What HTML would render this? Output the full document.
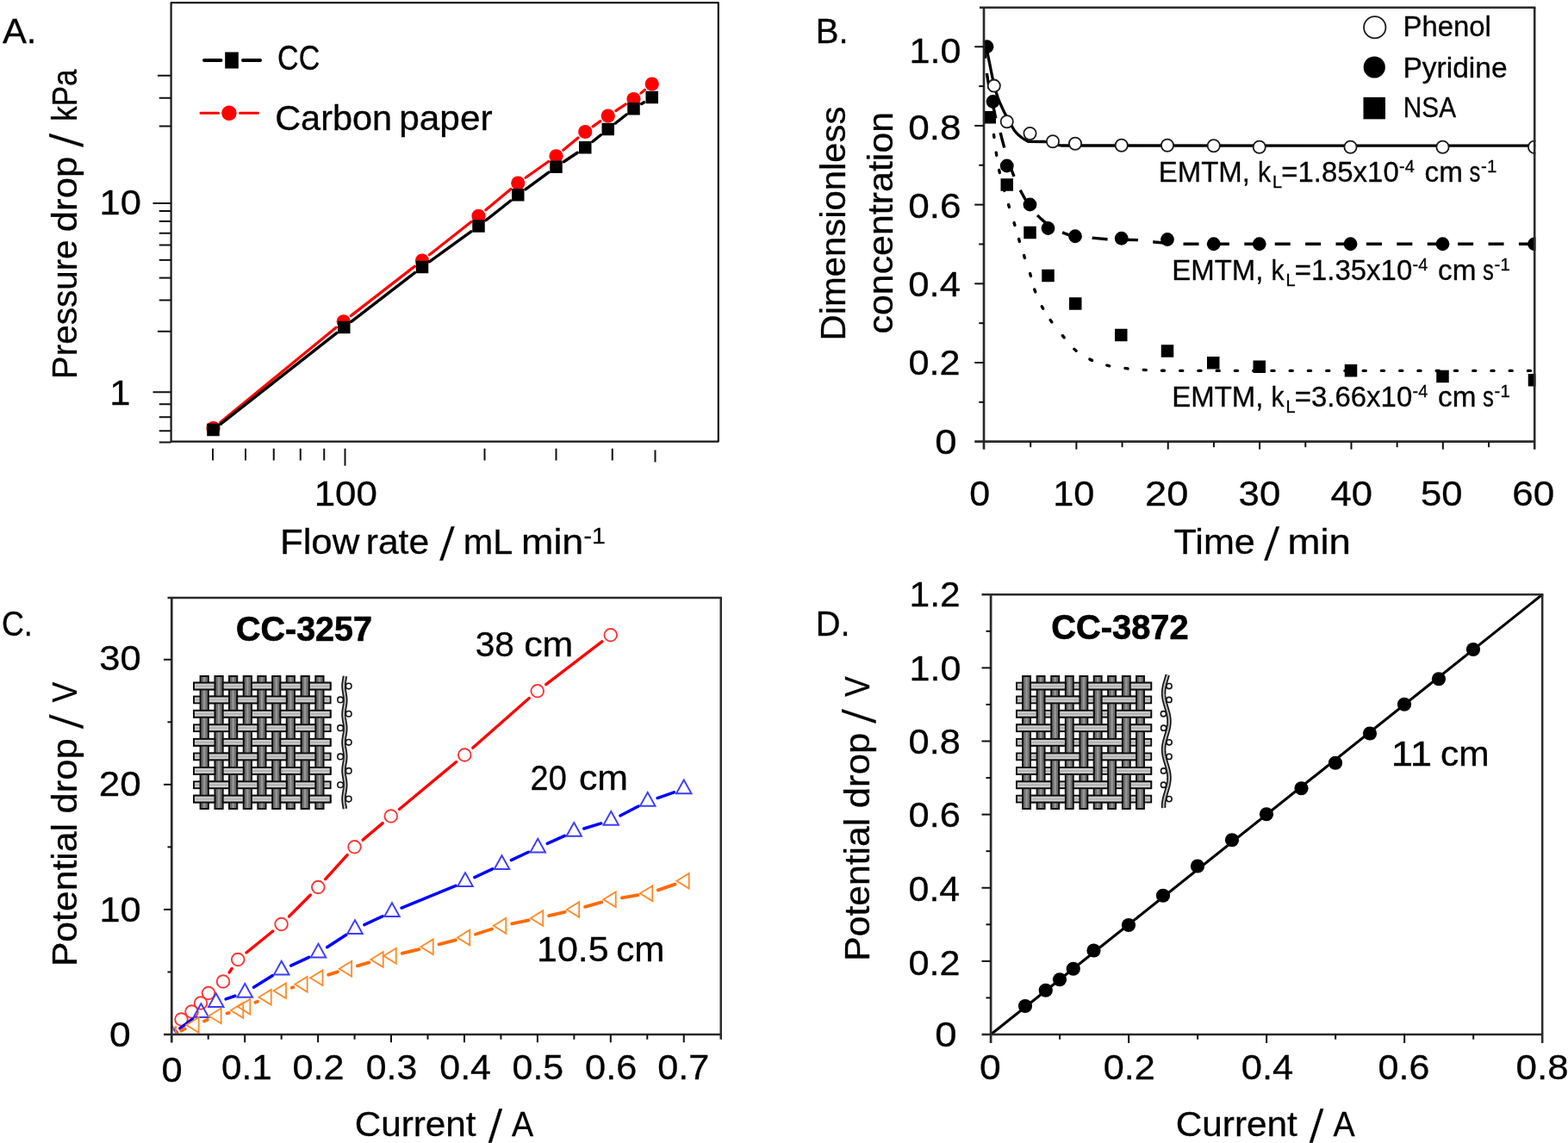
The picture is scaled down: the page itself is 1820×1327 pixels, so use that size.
<!DOCTYPE html>
<html lang="en"><head><meta charset="utf-8"><title>Figure</title>
<style>
html,body{margin:0;padding:0;background:#fff;}
body{width:1820px;height:1327px;overflow:hidden;}
svg{display:block;}
svg text{font-family:"Liberation Sans",sans-serif;}
</style></head><body>
<svg width="1820" height="1327" viewBox="0 0 1820 1327">
<rect width="1820" height="1327" fill="#fff"/>
<rect x="198.6" y="3.2" width="635.1999999999999" height="509.40000000000003" fill="none" stroke="#161616" stroke-width="2.2" stroke-linejoin="round"/>
<line x1="183.00" y1="87.75" x2="198.60" y2="87.75" stroke="#111" stroke-width="2.0" stroke-linecap="butt" />
<line x1="184.75" y1="113.75" x2="198.60" y2="113.75" stroke="#111" stroke-width="2.0" stroke-linecap="butt" />
<line x1="184.75" y1="146.50" x2="198.60" y2="146.50" stroke="#111" stroke-width="2.0" stroke-linecap="butt" />
<line x1="177.50" y1="236.00" x2="198.60" y2="236.00" stroke="#111" stroke-width="2.0" stroke-linecap="butt" />
<line x1="184.75" y1="245.00" x2="198.60" y2="245.00" stroke="#111" stroke-width="2.0" stroke-linecap="butt" />
<line x1="184.75" y1="256.90" x2="198.60" y2="256.90" stroke="#111" stroke-width="2.0" stroke-linecap="butt" />
<line x1="184.75" y1="270.75" x2="198.60" y2="270.75" stroke="#111" stroke-width="2.0" stroke-linecap="butt" />
<line x1="184.75" y1="284.50" x2="198.60" y2="284.50" stroke="#111" stroke-width="2.0" stroke-linecap="butt" />
<line x1="184.75" y1="301.90" x2="198.60" y2="301.90" stroke="#111" stroke-width="2.0" stroke-linecap="butt" />
<line x1="184.75" y1="322.60" x2="198.60" y2="322.60" stroke="#111" stroke-width="2.0" stroke-linecap="butt" />
<line x1="184.75" y1="348.50" x2="198.60" y2="348.50" stroke="#111" stroke-width="2.0" stroke-linecap="butt" />
<line x1="183.00" y1="384.75" x2="198.60" y2="384.75" stroke="#111" stroke-width="2.0" stroke-linecap="butt" />
<line x1="177.50" y1="455.25" x2="198.60" y2="455.25" stroke="#111" stroke-width="2.0" stroke-linecap="butt" />
<line x1="184.75" y1="469.25" x2="198.60" y2="469.25" stroke="#111" stroke-width="2.0" stroke-linecap="butt" />
<line x1="184.75" y1="484.25" x2="198.60" y2="484.25" stroke="#111" stroke-width="2.0" stroke-linecap="butt" />
<line x1="184.75" y1="500.25" x2="198.60" y2="500.25" stroke="#111" stroke-width="2.0" stroke-linecap="butt" />
<line x1="184.75" y1="513.50" x2="198.60" y2="513.50" stroke="#111" stroke-width="2.0" stroke-linecap="butt" />
<line x1="247.00" y1="520.75" x2="247.00" y2="534.50" stroke="#111" stroke-width="2.0" stroke-linecap="butt" />
<line x1="285.00" y1="520.75" x2="285.00" y2="534.50" stroke="#111" stroke-width="2.0" stroke-linecap="butt" />
<line x1="317.75" y1="520.75" x2="317.75" y2="534.50" stroke="#111" stroke-width="2.0" stroke-linecap="butt" />
<line x1="348.75" y1="520.75" x2="348.75" y2="534.50" stroke="#111" stroke-width="2.0" stroke-linecap="butt" />
<line x1="376.25" y1="520.75" x2="376.25" y2="534.50" stroke="#111" stroke-width="2.0" stroke-linecap="butt" />
<line x1="400.50" y1="520.75" x2="400.50" y2="540.75" stroke="#111" stroke-width="2.0" stroke-linecap="butt" />
<line x1="562.50" y1="520.75" x2="562.50" y2="534.50" stroke="#111" stroke-width="2.0" stroke-linecap="butt" />
<line x1="645.50" y1="520.75" x2="645.50" y2="534.50" stroke="#111" stroke-width="2.0" stroke-linecap="butt" />
<line x1="710.75" y1="520.75" x2="710.75" y2="534.50" stroke="#111" stroke-width="2.0" stroke-linecap="butt" />
<line x1="760.50" y1="522.50" x2="760.50" y2="536.50" stroke="#111" stroke-width="2.0" stroke-linecap="butt" />
<line x1="255.86" y1="490.16" x2="390.39" y2="380.09" stroke="#f00" stroke-width="3.2" stroke-linecap="round" />
<line x1="407.29" y1="366.63" x2="481.46" y2="309.12" stroke="#f00" stroke-width="3.2" stroke-linecap="round" />
<line x1="498.47" y1="295.80" x2="547.03" y2="257.45" stroke="#f00" stroke-width="3.2" stroke-linecap="round" />
<line x1="563.79" y1="243.82" x2="592.96" y2="219.43" stroke="#f00" stroke-width="3.2" stroke-linecap="round" />
<line x1="610.07" y1="206.27" x2="636.68" y2="187.48" stroke="#f00" stroke-width="3.2" stroke-linecap="round" />
<line x1="653.78" y1="174.32" x2="670.97" y2="159.93" stroke="#f00" stroke-width="3.2" stroke-linecap="round" />
<line x1="688.11" y1="146.82" x2="696.89" y2="140.68" stroke="#f00" stroke-width="3.2" stroke-linecap="round" />
<line x1="714.78" y1="128.58" x2="726.47" y2="120.92" stroke="#f00" stroke-width="3.2" stroke-linecap="round" />
<line x1="743.84" y1="108.13" x2="748.41" y2="104.37" stroke="#f00" stroke-width="3.2" stroke-linecap="round" />
<circle cx="247.50" cy="497.00" r="8.1" fill="#f00" stroke="none" stroke-width="0"/>
<circle cx="398.75" cy="373.25" r="8.1" fill="#f00" stroke="none" stroke-width="0"/>
<circle cx="490.00" cy="302.50" r="8.1" fill="#f00" stroke="none" stroke-width="0"/>
<circle cx="555.50" cy="250.75" r="8.1" fill="#f00" stroke="none" stroke-width="0"/>
<circle cx="601.25" cy="212.50" r="8.1" fill="#f00" stroke="none" stroke-width="0"/>
<circle cx="645.50" cy="181.25" r="8.1" fill="#f00" stroke="none" stroke-width="0"/>
<circle cx="679.25" cy="153.00" r="8.1" fill="#f00" stroke="none" stroke-width="0"/>
<circle cx="705.75" cy="134.50" r="8.1" fill="#f00" stroke="none" stroke-width="0"/>
<circle cx="735.50" cy="115.00" r="8.1" fill="#f00" stroke="none" stroke-width="0"/>
<circle cx="756.75" cy="97.50" r="8.1" fill="#f00" stroke="none" stroke-width="0"/>
<line x1="256.00" y1="492.34" x2="390.75" y2="386.66" stroke="#000" stroke-width="3.4" stroke-linecap="round" />
<line x1="407.80" y1="373.40" x2="481.45" y2="316.60" stroke="#000" stroke-width="3.4" stroke-linecap="round" />
<line x1="498.74" y1="303.66" x2="546.76" y2="268.84" stroke="#000" stroke-width="3.4" stroke-linecap="round" />
<line x1="563.96" y1="255.79" x2="592.79" y2="232.96" stroke="#000" stroke-width="3.4" stroke-linecap="round" />
<line x1="609.95" y1="219.86" x2="636.80" y2="200.14" stroke="#000" stroke-width="3.4" stroke-linecap="round" />
<line x1="654.49" y1="187.76" x2="670.26" y2="177.24" stroke="#000" stroke-width="3.4" stroke-linecap="round" />
<line x1="687.68" y1="164.49" x2="697.32" y2="156.76" stroke="#000" stroke-width="3.4" stroke-linecap="round" />
<line x1="714.19" y1="143.26" x2="727.06" y2="132.99" stroke="#000" stroke-width="3.4" stroke-linecap="round" />
<line x1="744.66" y1="120.54" x2="747.59" y2="118.71" stroke="#000" stroke-width="3.4" stroke-linecap="round" />
<rect x="240.25" y="491.75" width="14.5" height="14.5" fill="#000"/>
<rect x="392.00" y="372.75" width="14.5" height="14.5" fill="#000"/>
<rect x="482.75" y="302.75" width="14.5" height="14.5" fill="#000"/>
<rect x="548.25" y="255.25" width="14.5" height="14.5" fill="#000"/>
<rect x="594.00" y="219.00" width="14.5" height="14.5" fill="#000"/>
<rect x="638.25" y="186.50" width="14.5" height="14.5" fill="#000"/>
<rect x="672.00" y="164.00" width="14.5" height="14.5" fill="#000"/>
<rect x="698.50" y="142.75" width="14.5" height="14.5" fill="#000"/>
<rect x="728.25" y="119.00" width="14.5" height="14.5" fill="#000"/>
<rect x="749.50" y="105.75" width="14.5" height="14.5" fill="#000"/>
<line x1="237.00" y1="70.00" x2="256.50" y2="70.00" stroke="#000" stroke-width="4" stroke-linecap="round" />
<line x1="282.00" y1="70.00" x2="302.00" y2="70.00" stroke="#000" stroke-width="4" stroke-linecap="round" />
<rect x="261.20" y="60.50" width="15.6" height="19" fill="#000"/>
<line x1="233.00" y1="131.25" x2="253.50" y2="131.25" stroke="#f00" stroke-width="3" stroke-linecap="round" />
<line x1="278.50" y1="131.25" x2="299.50" y2="131.25" stroke="#f00" stroke-width="3" stroke-linecap="round" />
<circle cx="265.90" cy="131.25" r="8.7" fill="#f00" stroke="none" stroke-width="0"/>
<text transform="translate(322.05,80.50) scale(0.8517,1.0000)" font-size="40" fill="#000" stroke="#000" stroke-width="0.3">CC</text>
<text transform="translate(319.18,151.25) scale(1.0367,1.0000)" font-size="40" fill="#000" stroke="#000" stroke-width="0.3">Carbon</text>
<text transform="translate(463.25,151.25) scale(1.0595,1.0000)" font-size="40" fill="#000" stroke="#000" stroke-width="0.3">paper</text>
<text transform="translate(2.90,50.00) scale(1.0484,1.0000)" font-size="40" fill="#000" stroke="#000" stroke-width="0.3">A.</text>
<text transform="translate(115.49,249.10) scale(1.0865,1.0000)" font-size="40" fill="#000" stroke="#000" stroke-width="0.3">10</text>
<text transform="translate(127.34,469.50) scale(1.0865,1.0000)" font-size="40" fill="#000" stroke="#000" stroke-width="0.3">1</text>
<text transform="translate(364.71,587.00) scale(1.0973,1.0000)" font-size="40" fill="#000" stroke="#000" stroke-width="0.3">100</text>
<text transform="translate(324.89,643.25) scale(1.0947,1.0000)" font-size="40" fill="#000" stroke="#000" stroke-width="0.3">Flow</text>
<text transform="translate(424.73,643.25) scale(1.0642,1.0000)" font-size="40" fill="#000" stroke="#000" stroke-width="0.3">rate</text>
<text transform="translate(510.56,650.15) skewX(-6.136) scale(1.15,1.34)" font-size="40" fill="#000" stroke="#000" stroke-width="0.3">/</text>
<text transform="translate(537.71,643.25) scale(1.0340,1.0000)" font-size="40" fill="#000" stroke="#000" stroke-width="0.3">mL</text>
<text transform="translate(604.97,643.25) scale(1.1233,1.0000)" font-size="40" fill="#000" stroke="#000" stroke-width="0.3">min</text>
<text transform="translate(677.48,630.50) scale(1.1099,1.0000)" font-size="25.5" fill="#000" stroke="#000" stroke-width="0.3">-1</text>
<text transform="translate(89.40,440.24) rotate(-90) scale(1.0116,1.0000)" font-size="40" fill="#000" stroke="#000" stroke-width="0.3">Pressure</text>
<text transform="translate(89.40,269.16) rotate(-90) scale(1.0913,1.0000)" font-size="40" fill="#000" stroke="#000" stroke-width="0.3">drop</text>
<text transform="translate(96.30,170.76) rotate(-90) skewX(-4.405) scale(1.15,1.34)" font-size="40" fill="#000" stroke="#000" stroke-width="0.3">/</text>
<text transform="translate(89.40,140.77) rotate(-90) scale(0.8763,1.0000)" font-size="40" fill="#000" stroke="#000" stroke-width="0.3">kPa</text>
<clipPath id="cb"><rect x="1142" y="8.75" width="640.4000000000001" height="503.95000000000005"/></clipPath>
<g clip-path="url(#cb)">
<path d="M1142.60,54.25 L1142.81,54.64 L1143.05,55.02 L1143.34,55.43 L1143.67,55.91 L1144.03,56.50 L1144.43,57.24 L1144.85,58.17 L1145.30,59.33 L1145.76,60.76 L1146.25,62.50 L1146.78,64.67 L1147.35,67.29 L1147.97,70.26 L1148.62,73.47 L1149.29,76.84 L1149.97,80.27 L1150.63,83.64 L1151.29,86.87 L1151.91,89.86 L1152.50,92.50 L1153.05,94.86 L1153.58,97.07 L1154.09,99.16 L1154.59,101.12 L1155.08,102.98 L1155.56,104.76 L1156.04,106.46 L1156.52,108.10 L1157.01,109.69 L1157.50,111.25 L1158.00,112.75 L1158.50,114.15 L1159.00,115.47 L1159.50,116.71 L1160.00,117.91 L1160.50,119.06 L1161.00,120.18 L1161.50,121.28 L1162.00,122.39 L1162.50,123.50 L1162.99,124.59 L1163.46,125.62 L1163.92,126.61 L1164.38,127.58 L1164.84,128.53 L1165.32,129.49 L1165.82,130.48 L1166.34,131.51 L1166.90,132.59 L1167.50,133.75 L1168.16,135.01 L1168.88,136.38 L1169.64,137.83 L1170.44,139.32 L1171.25,140.83 L1172.06,142.32 L1172.86,143.76 L1173.62,145.13 L1174.34,146.38 L1175.00,147.50 L1175.59,148.48 L1176.13,149.35 L1176.62,150.13 L1177.08,150.83 L1177.53,151.48 L1177.98,152.10 L1178.43,152.69 L1178.91,153.27 L1179.43,153.87 L1180.00,154.50 L1180.62,155.15 L1181.28,155.80 L1181.96,156.44 L1182.67,157.07 L1183.39,157.69 L1184.12,158.30 L1184.86,158.89 L1185.58,159.45 L1186.30,159.99 L1187.00,160.50 L1187.72,160.99 L1188.47,161.48 L1189.26,161.95 L1190.04,162.40 L1190.81,162.82 L1191.55,163.22 L1192.23,163.58 L1192.84,163.90 L1193.35,164.18 L1193.75,164.40 L1212.50,164.50 L1212.50,164.50 L1212.98,164.54 L1213.65,164.59 L1214.44,164.65 L1215.30,164.73 L1216.17,164.85 L1217.00,165.00 L1217.80,165.20 L1218.63,165.45 L1219.47,165.73 L1220.31,166.03 L1221.16,166.32 L1222.00,166.60 L1222.83,166.88 L1223.65,167.16 L1224.47,167.45 L1225.30,167.73 L1226.14,167.98 L1227.00,168.20 L1227.95,168.39 L1229.00,168.56 L1230.06,168.70 L1231.06,168.82 L1231.90,168.92 L1232.50,169.00 L1783.20,169.20" fill="none" stroke="#000" stroke-width="3.3" stroke-linejoin="round"/>
<path d="M1142.40,54.25 L1142.57,56.24 L1142.78,58.89 L1143.04,62.05 L1143.33,65.56 L1143.64,69.27 L1143.99,73.01 L1144.36,76.64 L1144.75,80.00 L1145.17,83.22 L1145.64,86.49 L1146.14,89.78 L1146.66,93.05 L1147.20,96.24 L1147.73,99.33 L1148.25,102.26 L1148.75,105.00 L1149.23,107.50 L1149.70,109.79 L1150.16,111.92 L1150.62,113.94 L1151.09,115.90 L1151.55,117.87 L1152.02,119.88 L1152.50,122.00 L1152.98,124.23 L1153.47,126.52 L1153.96,128.85 L1154.45,131.19 L1154.95,133.50 L1155.46,135.76 L1155.97,137.93 L1156.50,140.00 L1157.07,142.04 L1157.70,144.11 L1158.35,146.16 L1159.00,148.12 L1159.62,149.95 L1160.18,151.58 L1160.65,152.95 L1161.00,154.00 L1161.61,155.83 L1162.63,159.85 L1163.65,163.74 L1164.67,167.51 L1165.68,171.16 L1166.70,174.69 L1167.72,178.11 L1168.73,181.43 L1169.75,184.64 L1170.77,187.75 L1171.79,190.76 L1172.80,193.67 L1173.82,196.50 L1174.84,199.23 L1175.85,201.88 L1176.87,204.45 L1177.89,206.93 L1178.91,209.34 L1179.92,211.67 L1180.94,213.92 L1181.96,216.11 L1182.97,218.23 L1183.99,220.28 L1185.01,222.26 L1186.03,224.18 L1187.04,226.05 L1188.06,227.85 L1189.08,229.60 L1190.09,231.29 L1191.11,232.93 L1192.13,234.51 L1193.15,236.05 L1194.16,237.54 L1195.18,238.98 L1196.20,240.37 L1197.21,241.73 L1198.23,243.04 L1199.25,244.30 L1200.27,245.53 L1201.28,246.72 L1202.30,247.87 L1203.32,248.99 L1204.33,250.07 L1205.35,251.11 L1206.37,252.13 L1207.39,253.11 L1208.40,254.06 L1209.42,254.98 L1210.44,255.87 L1211.45,256.73 L1212.47,257.57 L1213.49,258.38 L1214.50,259.16 L1215.52,259.92 L1216.54,260.66 L1217.56,261.37 L1218.57,262.06 L1219.59,262.73 L1220.61,263.37 L1221.62,264.00 L1222.64,264.61 L1223.66,265.20 L1224.68,265.77 L1225.69,266.32 L1226.71,266.85 L1227.73,267.37 L1228.74,267.87 L1229.76,268.35 L1230.78,268.82 L1231.80,269.28 L1232.81,269.72 L1233.83,270.14 L1234.85,270.56 L1235.86,270.96 L1236.88,271.35 L1237.90,271.72 L1238.92,272.08 L1239.93,272.44 L1240.95,272.78 L1241.97,273.11 L1242.98,273.43 L1248.00,274.80 L1270.00,276.40 L1285.00,277.80 L1301.75,278.20 L1320.00,278.60 L1340.00,281.00 L1355.00,282.40 L1375.00,283.25 L1783.20,283.25" fill="none" stroke="#000" stroke-width="3.4" stroke-dasharray="18 17.4" stroke-dashoffset="4.4"/>
<line x1="1153.55" y1="156.51" x2="1153.95" y2="159.49" stroke="#000" stroke-width="3.4" stroke-linecap="round" />
<line x1="1156.27" y1="177.27" x2="1156.73" y2="180.23" stroke="#000" stroke-width="3.4" stroke-linecap="round" />
<line x1="1159.68" y1="197.53" x2="1160.32" y2="200.47" stroke="#000" stroke-width="3.4" stroke-linecap="round" />
<line x1="1165.10" y1="218.55" x2="1165.90" y2="221.45" stroke="#000" stroke-width="3.4" stroke-linecap="round" />
<line x1="1170.57" y1="237.56" x2="1171.43" y2="240.44" stroke="#000" stroke-width="3.4" stroke-linecap="round" />
<line x1="1177.07" y1="258.56" x2="1177.93" y2="261.44" stroke="#000" stroke-width="3.4" stroke-linecap="round" />
<line x1="1182.57" y1="277.56" x2="1183.43" y2="280.44" stroke="#000" stroke-width="3.4" stroke-linecap="round" />
<line x1="1188.54" y1="296.57" x2="1189.46" y2="299.43" stroke="#000" stroke-width="3.4" stroke-linecap="round" />
<line x1="1195.56" y1="317.57" x2="1196.44" y2="320.43" stroke="#000" stroke-width="3.4" stroke-linecap="round" />
<line x1="1200.73" y1="336.09" x2="1201.77" y2="338.91" stroke="#000" stroke-width="3.4" stroke-linecap="round" />
<line x1="1209.30" y1="355.68" x2="1210.70" y2="358.32" stroke="#000" stroke-width="3.4" stroke-linecap="round" />
<line x1="1219.12" y1="371.53" x2="1220.88" y2="373.97" stroke="#000" stroke-width="3.4" stroke-linecap="round" />
<line x1="1233.29" y1="389.60" x2="1235.21" y2="391.90" stroke="#000" stroke-width="3.4" stroke-linecap="round" />
<line x1="1246.85" y1="405.28" x2="1249.15" y2="407.22" stroke="#000" stroke-width="3.4" stroke-linecap="round" />
<line x1="1264.90" y1="417.10" x2="1267.60" y2="418.40" stroke="#000" stroke-width="3.4" stroke-linecap="round" />
<line x1="1284.79" y1="424.15" x2="1287.71" y2="424.85" stroke="#000" stroke-width="3.4" stroke-linecap="round" />
<line x1="1306.01" y1="427.57" x2="1308.99" y2="427.93" stroke="#000" stroke-width="3.4" stroke-linecap="round" />
<line x1="1327.25" y1="429.41" x2="1330.25" y2="429.59" stroke="#000" stroke-width="3.4" stroke-linecap="round" />
<line x1="1348.50" y1="430.22" x2="1351.50" y2="430.28" stroke="#000" stroke-width="3.4" stroke-linecap="round" />
<line x1="1369.75" y1="430.39" x2="1372.75" y2="430.41" stroke="#000" stroke-width="3.4" stroke-linecap="round" />
<line x1="1391.00" y1="430.40" x2="1394.00" y2="430.40" stroke="#000" stroke-width="3.4" stroke-linecap="round" />
<line x1="1412.25" y1="430.40" x2="1415.25" y2="430.40" stroke="#000" stroke-width="3.4" stroke-linecap="round" />
<line x1="1433.50" y1="430.40" x2="1436.50" y2="430.40" stroke="#000" stroke-width="3.4" stroke-linecap="round" />
<line x1="1454.75" y1="430.40" x2="1457.75" y2="430.40" stroke="#000" stroke-width="3.4" stroke-linecap="round" />
<line x1="1476.00" y1="430.40" x2="1479.00" y2="430.40" stroke="#000" stroke-width="3.4" stroke-linecap="round" />
<line x1="1497.25" y1="430.40" x2="1500.25" y2="430.40" stroke="#000" stroke-width="3.4" stroke-linecap="round" />
<line x1="1518.50" y1="430.40" x2="1521.50" y2="430.40" stroke="#000" stroke-width="3.4" stroke-linecap="round" />
<line x1="1539.75" y1="430.40" x2="1542.75" y2="430.40" stroke="#000" stroke-width="3.4" stroke-linecap="round" />
<line x1="1561.00" y1="430.40" x2="1564.00" y2="430.40" stroke="#000" stroke-width="3.4" stroke-linecap="round" />
<line x1="1582.25" y1="430.40" x2="1585.25" y2="430.40" stroke="#000" stroke-width="3.4" stroke-linecap="round" />
<line x1="1603.50" y1="430.40" x2="1606.50" y2="430.40" stroke="#000" stroke-width="3.4" stroke-linecap="round" />
<line x1="1624.75" y1="430.40" x2="1627.75" y2="430.40" stroke="#000" stroke-width="3.4" stroke-linecap="round" />
<line x1="1646.00" y1="430.40" x2="1649.00" y2="430.40" stroke="#000" stroke-width="3.4" stroke-linecap="round" />
<line x1="1667.25" y1="430.40" x2="1670.25" y2="430.40" stroke="#000" stroke-width="3.4" stroke-linecap="round" />
<line x1="1688.50" y1="430.40" x2="1691.50" y2="430.40" stroke="#000" stroke-width="3.4" stroke-linecap="round" />
<line x1="1709.75" y1="430.40" x2="1712.75" y2="430.40" stroke="#000" stroke-width="3.4" stroke-linecap="round" />
<line x1="1731.00" y1="430.40" x2="1734.00" y2="430.40" stroke="#000" stroke-width="3.4" stroke-linecap="round" />
<line x1="1752.25" y1="430.40" x2="1755.25" y2="430.40" stroke="#000" stroke-width="3.4" stroke-linecap="round" />
<line x1="1773.50" y1="430.40" x2="1776.50" y2="430.40" stroke="#000" stroke-width="3.4" stroke-linecap="round" />
<rect x="1141.50" y="129.00" width="14.5" height="14.5" fill="#000"/>
<rect x="1161.50" y="207.25" width="14.5" height="14.5" fill="#000"/>
<rect x="1188.25" y="262.75" width="14.5" height="14.5" fill="#000"/>
<rect x="1209.25" y="312.75" width="14.5" height="14.5" fill="#000"/>
<rect x="1241.00" y="345.25" width="14.5" height="14.5" fill="#000"/>
<rect x="1294.00" y="381.75" width="14.5" height="14.5" fill="#000"/>
<rect x="1347.75" y="400.25" width="14.5" height="14.5" fill="#000"/>
<rect x="1401.00" y="414.00" width="14.5" height="14.5" fill="#000"/>
<rect x="1454.50" y="418.50" width="14.5" height="14.5" fill="#000"/>
<rect x="1560.75" y="423.00" width="14.5" height="14.5" fill="#000"/>
<rect x="1667.25" y="429.75" width="14.5" height="14.5" fill="#000"/>
<rect x="1773.75" y="434.00" width="14.5" height="14.5" fill="#000"/>
<circle cx="1145.50" cy="54.25" r="7.9" fill="#000" stroke="none" stroke-width="0"/>
<circle cx="1152.50" cy="118.00" r="7.9" fill="#000" stroke="none" stroke-width="0"/>
<circle cx="1168.75" cy="192.50" r="7.9" fill="#000" stroke="none" stroke-width="0"/>
<circle cx="1195.50" cy="237.50" r="7.9" fill="#000" stroke="none" stroke-width="0"/>
<circle cx="1216.50" cy="265.00" r="7.9" fill="#000" stroke="none" stroke-width="0"/>
<circle cx="1248.00" cy="274.25" r="7.9" fill="#000" stroke="none" stroke-width="0"/>
<circle cx="1301.75" cy="276.75" r="7.9" fill="#000" stroke="none" stroke-width="0"/>
<circle cx="1355.00" cy="278.00" r="7.9" fill="#000" stroke="none" stroke-width="0"/>
<circle cx="1408.75" cy="283.25" r="7.9" fill="#000" stroke="none" stroke-width="0"/>
<circle cx="1461.75" cy="283.25" r="7.9" fill="#000" stroke="none" stroke-width="0"/>
<circle cx="1567.50" cy="283.25" r="7.9" fill="#000" stroke="none" stroke-width="0"/>
<circle cx="1674.50" cy="283.25" r="7.9" fill="#000" stroke="none" stroke-width="0"/>
<circle cx="1781.00" cy="283.25" r="7.9" fill="#000" stroke="none" stroke-width="0"/>
<circle cx="1153.80" cy="99.60" r="7.1" fill="#fff" stroke="#1a1a1a" stroke-width="1.8"/>
<circle cx="1168.75" cy="141.25" r="7.1" fill="#fff" stroke="#1a1a1a" stroke-width="1.8"/>
<circle cx="1195.50" cy="155.00" r="7.1" fill="#fff" stroke="#1a1a1a" stroke-width="1.8"/>
<circle cx="1222.00" cy="164.25" r="7.1" fill="#fff" stroke="#1a1a1a" stroke-width="1.8"/>
<circle cx="1248.00" cy="166.75" r="7.1" fill="#fff" stroke="#1a1a1a" stroke-width="1.8"/>
<circle cx="1301.75" cy="168.75" r="7.1" fill="#fff" stroke="#1a1a1a" stroke-width="1.8"/>
<circle cx="1355.00" cy="168.75" r="7.1" fill="#fff" stroke="#1a1a1a" stroke-width="1.8"/>
<circle cx="1408.75" cy="169.25" r="7.1" fill="#fff" stroke="#1a1a1a" stroke-width="1.8"/>
<circle cx="1461.75" cy="170.75" r="7.1" fill="#fff" stroke="#1a1a1a" stroke-width="1.8"/>
<circle cx="1567.50" cy="170.75" r="7.1" fill="#fff" stroke="#1a1a1a" stroke-width="1.8"/>
<circle cx="1674.50" cy="170.75" r="7.1" fill="#fff" stroke="#1a1a1a" stroke-width="1.8"/>
<circle cx="1781.00" cy="170.75" r="7.1" fill="#fff" stroke="#1a1a1a" stroke-width="1.8"/>
</g>
<line x1="1142.00" y1="8.75" x2="1142.00" y2="521.70" stroke="#2a2a2a" stroke-width="2.7" stroke-linecap="butt" />
<line x1="1131.25" y1="512.70" x2="1781.20" y2="512.70" stroke="#2a2a2a" stroke-width="2.7" stroke-linecap="butt" />
<line x1="1137.00" y1="8.75" x2="1782.40" y2="8.75" stroke="#2a2a2a" stroke-width="2.4" stroke-linecap="butt" />
<line x1="1781.20" y1="8.75" x2="1781.20" y2="521.70" stroke="#2a2a2a" stroke-width="2.6" stroke-linecap="butt" />
<line x1="1131.25" y1="54.25" x2="1142.00" y2="54.25" stroke="#111" stroke-width="2.0" stroke-linecap="butt" />
<line x1="1131.25" y1="145.94" x2="1142.00" y2="145.94" stroke="#111" stroke-width="2.0" stroke-linecap="butt" />
<line x1="1131.25" y1="237.63" x2="1142.00" y2="237.63" stroke="#111" stroke-width="2.0" stroke-linecap="butt" />
<line x1="1131.25" y1="329.32" x2="1142.00" y2="329.32" stroke="#111" stroke-width="2.0" stroke-linecap="butt" />
<line x1="1131.25" y1="421.01" x2="1142.00" y2="421.01" stroke="#111" stroke-width="2.0" stroke-linecap="butt" />
<line x1="1136.25" y1="100.09" x2="1142.00" y2="100.09" stroke="#111" stroke-width="2.0" stroke-linecap="butt" />
<line x1="1136.25" y1="191.79" x2="1142.00" y2="191.79" stroke="#111" stroke-width="2.0" stroke-linecap="butt" />
<line x1="1136.25" y1="283.48" x2="1142.00" y2="283.48" stroke="#111" stroke-width="2.0" stroke-linecap="butt" />
<line x1="1136.25" y1="375.17" x2="1142.00" y2="375.17" stroke="#111" stroke-width="2.0" stroke-linecap="butt" />
<line x1="1136.25" y1="466.86" x2="1142.00" y2="466.86" stroke="#111" stroke-width="2.0" stroke-linecap="butt" />
<line x1="1196.18" y1="512.70" x2="1196.18" y2="519.20" stroke="#111" stroke-width="2.0" stroke-linecap="butt" />
<line x1="1249.37" y1="512.70" x2="1249.37" y2="521.70" stroke="#111" stroke-width="2.0" stroke-linecap="butt" />
<line x1="1302.55" y1="512.70" x2="1302.55" y2="519.20" stroke="#111" stroke-width="2.0" stroke-linecap="butt" />
<line x1="1355.73" y1="512.70" x2="1355.73" y2="521.70" stroke="#111" stroke-width="2.0" stroke-linecap="butt" />
<line x1="1408.92" y1="512.70" x2="1408.92" y2="519.20" stroke="#111" stroke-width="2.0" stroke-linecap="butt" />
<line x1="1462.10" y1="512.70" x2="1462.10" y2="521.70" stroke="#111" stroke-width="2.0" stroke-linecap="butt" />
<line x1="1515.28" y1="512.70" x2="1515.28" y2="519.20" stroke="#111" stroke-width="2.0" stroke-linecap="butt" />
<line x1="1568.47" y1="512.70" x2="1568.47" y2="521.70" stroke="#111" stroke-width="2.0" stroke-linecap="butt" />
<line x1="1621.65" y1="512.70" x2="1621.65" y2="519.20" stroke="#111" stroke-width="2.0" stroke-linecap="butt" />
<line x1="1674.83" y1="512.70" x2="1674.83" y2="521.70" stroke="#111" stroke-width="2.0" stroke-linecap="butt" />
<line x1="1728.02" y1="512.70" x2="1728.02" y2="519.20" stroke="#111" stroke-width="2.0" stroke-linecap="butt" />
<circle cx="1595.75" cy="31.75" r="12.7" fill="#fff" stroke="#1a1a1a" stroke-width="1.8"/>
<circle cx="1595.25" cy="78.00" r="12.6" fill="#000" stroke="none" stroke-width="0"/>
<rect x="1582.50" y="112.85" width="25.5" height="25.5" fill="#000"/>
<text transform="translate(1628.54,42.00) scale(1.0056,1.0000)" font-size="32.7" fill="#000" stroke="#000" stroke-width="0.3">Phenol</text>
<text transform="translate(1628.48,89.50) scale(1.0259,1.0000)" font-size="32.7" fill="#000" stroke="#000" stroke-width="0.3">Pyridine</text>
<text transform="translate(1628.79,136.25) scale(0.9108,1.0000)" font-size="32.7" fill="#000" stroke="#000" stroke-width="0.3">NSA</text>
<text transform="translate(1344.68,211.25) scale(1.0087,1.0000)" font-size="32.7" fill="#000" stroke="#000" stroke-width="0.3">EMTM,</text>
<text transform="translate(1459.97,211.25) scale(0.9192,1.0000)" font-size="32.7" fill="#000" stroke="#000" stroke-width="0.3">k</text>
<text transform="translate(1477.11,218.05) scale(0.9701,1.0000)" font-size="20.5" fill="#000" stroke="#000" stroke-width="0.3">L</text>
<text transform="translate(1487.18,211.25) scale(1.0081,1.0000)" font-size="32.7" fill="#000" stroke="#000" stroke-width="0.3">=1.85x10</text>
<text transform="translate(1624.10,199.75) scale(0.9495,1.0000)" font-size="21" fill="#000" stroke="#000" stroke-width="0.3">-4</text>
<text transform="translate(1653.58,211.25) scale(1.0185,1.0000)" font-size="32.7" fill="#000" stroke="#000" stroke-width="0.3">cm</text>
<text transform="translate(1705.54,211.25) scale(0.7864,1.0000)" font-size="32.7" fill="#000" stroke="#000" stroke-width="0.3">s</text>
<text transform="translate(1719.08,199.75) scale(0.9733,1.0000)" font-size="21" fill="#000" stroke="#000" stroke-width="0.3">-1</text>
<text transform="translate(1360.18,325.00) scale(1.0087,1.0000)" font-size="32.7" fill="#000" stroke="#000" stroke-width="0.3">EMTM,</text>
<text transform="translate(1475.47,325.00) scale(0.9192,1.0000)" font-size="32.7" fill="#000" stroke="#000" stroke-width="0.3">k</text>
<text transform="translate(1492.61,331.80) scale(0.9701,1.0000)" font-size="20.5" fill="#000" stroke="#000" stroke-width="0.3">L</text>
<text transform="translate(1502.68,325.00) scale(1.0081,1.0000)" font-size="32.7" fill="#000" stroke="#000" stroke-width="0.3">=1.35x10</text>
<text transform="translate(1639.60,313.50) scale(0.9495,1.0000)" font-size="21" fill="#000" stroke="#000" stroke-width="0.3">-4</text>
<text transform="translate(1669.08,325.00) scale(1.0185,1.0000)" font-size="32.7" fill="#000" stroke="#000" stroke-width="0.3">cm</text>
<text transform="translate(1721.04,325.00) scale(0.7864,1.0000)" font-size="32.7" fill="#000" stroke="#000" stroke-width="0.3">s</text>
<text transform="translate(1734.58,313.50) scale(0.9733,1.0000)" font-size="21" fill="#000" stroke="#000" stroke-width="0.3">-1</text>
<text transform="translate(1360.18,472.00) scale(1.0087,1.0000)" font-size="32.7" fill="#000" stroke="#000" stroke-width="0.3">EMTM,</text>
<text transform="translate(1475.47,472.00) scale(0.9192,1.0000)" font-size="32.7" fill="#000" stroke="#000" stroke-width="0.3">k</text>
<text transform="translate(1492.61,478.80) scale(0.9701,1.0000)" font-size="20.5" fill="#000" stroke="#000" stroke-width="0.3">L</text>
<text transform="translate(1502.68,472.00) scale(1.0081,1.0000)" font-size="32.7" fill="#000" stroke="#000" stroke-width="0.3">=3.66x10</text>
<text transform="translate(1639.60,460.50) scale(0.9495,1.0000)" font-size="21" fill="#000" stroke="#000" stroke-width="0.3">-4</text>
<text transform="translate(1669.08,472.00) scale(1.0185,1.0000)" font-size="32.7" fill="#000" stroke="#000" stroke-width="0.3">cm</text>
<text transform="translate(1721.04,472.00) scale(0.7864,1.0000)" font-size="32.7" fill="#000" stroke="#000" stroke-width="0.3">s</text>
<text transform="translate(1734.58,460.50) scale(0.9733,1.0000)" font-size="21" fill="#000" stroke="#000" stroke-width="0.3">-1</text>
<text transform="translate(946.69,50.00) scale(1.0032,1.0000)" font-size="40" fill="#000" stroke="#000" stroke-width="0.3">B.</text>
<text transform="translate(1055.52,72.50) scale(1.0763,1.0000)" font-size="40" fill="#000" stroke="#000" stroke-width="0.3">1.0</text>
<text transform="translate(1054.23,162.00) scale(1.1042,1.0000)" font-size="40" fill="#000" stroke="#000" stroke-width="0.3">0.8</text>
<text transform="translate(1054.23,253.00) scale(1.1042,1.0000)" font-size="40" fill="#000" stroke="#000" stroke-width="0.3">0.6</text>
<text transform="translate(1054.25,344.00) scale(1.0917,1.0000)" font-size="40" fill="#000" stroke="#000" stroke-width="0.3">0.4</text>
<text transform="translate(1054.52,434.50) scale(1.0817,1.0000)" font-size="40" fill="#000" stroke="#000" stroke-width="0.3">0.2</text>
<text transform="translate(1085.18,527.00) scale(1.1387,1.0000)" font-size="40" fill="#000" stroke="#000" stroke-width="0.3">0</text>
<text transform="translate(1125.28,587.00) scale(1.0733,1.0000)" font-size="40" fill="#000" stroke="#000" stroke-width="0.3">0</text>
<text transform="translate(1222.25,587.00) scale(1.0840,1.0000)" font-size="40" fill="#000" stroke="#000" stroke-width="0.3">10</text>
<text transform="translate(1328.99,587.00) scale(1.1308,1.0000)" font-size="40" fill="#000" stroke="#000" stroke-width="0.3">20</text>
<text transform="translate(1437.61,587.00) scale(1.0930,1.0000)" font-size="40" fill="#000" stroke="#000" stroke-width="0.3">30</text>
<text transform="translate(1544.52,587.00) scale(1.0893,1.0000)" font-size="40" fill="#000" stroke="#000" stroke-width="0.3">40</text>
<text transform="translate(1649.01,587.00) scale(1.0896,1.0000)" font-size="40" fill="#000" stroke="#000" stroke-width="0.3">50</text>
<text transform="translate(1755.30,587.00) scale(1.1002,1.0000)" font-size="40" fill="#000" stroke="#000" stroke-width="0.3">60</text>
<text transform="translate(1362.53,643.25) scale(1.0790,1.0000)" font-size="40" fill="#000" stroke="#000" stroke-width="0.3">Time</text>
<text transform="translate(1467.56,650.15) skewX(-6.853) scale(1.15,1.34)" font-size="40" fill="#000" stroke="#000" stroke-width="0.3">/</text>
<text transform="translate(1494.42,643.25) scale(1.1402,1.0000)" font-size="40" fill="#000" stroke="#000" stroke-width="0.3">min</text>
<text transform="translate(980.60,395.45) rotate(-90) scale(1.0454,1.0000)" font-size="40" fill="#000" stroke="#000" stroke-width="0.3">Dimensionless</text>
<text transform="translate(1036.00,387.58) rotate(-90) scale(1.0735,1.0000)" font-size="40" fill="#000" stroke="#000" stroke-width="0.3">concentration</text>
<rect x="225.00" y="792.65" width="158.60" height="7.8" fill="#d2d2d2" stroke="#0c0c0c" stroke-width="1.9"/>
<rect x="226.00" y="795.35" width="156.60" height="2.4" fill="#b4b4b4"/>
<rect x="225.00" y="808.56" width="158.60" height="7.8" fill="#d2d2d2" stroke="#0c0c0c" stroke-width="1.9"/>
<rect x="226.00" y="811.26" width="156.60" height="2.4" fill="#b4b4b4"/>
<rect x="225.00" y="824.87" width="158.60" height="7.8" fill="#d2d2d2" stroke="#0c0c0c" stroke-width="1.9"/>
<rect x="226.00" y="827.57" width="156.60" height="2.4" fill="#b4b4b4"/>
<rect x="225.00" y="841.32" width="158.60" height="7.8" fill="#d2d2d2" stroke="#0c0c0c" stroke-width="1.9"/>
<rect x="226.00" y="844.02" width="156.60" height="2.4" fill="#b4b4b4"/>
<rect x="225.00" y="857.90" width="158.60" height="7.8" fill="#d2d2d2" stroke="#0c0c0c" stroke-width="1.9"/>
<rect x="226.00" y="860.60" width="156.60" height="2.4" fill="#b4b4b4"/>
<rect x="225.00" y="874.48" width="158.60" height="7.8" fill="#d2d2d2" stroke="#0c0c0c" stroke-width="1.9"/>
<rect x="226.00" y="877.18" width="156.60" height="2.4" fill="#b4b4b4"/>
<rect x="225.00" y="891.05" width="158.60" height="7.8" fill="#d2d2d2" stroke="#0c0c0c" stroke-width="1.9"/>
<rect x="226.00" y="893.75" width="156.60" height="2.4" fill="#b4b4b4"/>
<rect x="225.00" y="907.37" width="158.60" height="7.8" fill="#d2d2d2" stroke="#0c0c0c" stroke-width="1.9"/>
<rect x="226.00" y="910.07" width="156.60" height="2.4" fill="#b4b4b4"/>
<rect x="225.00" y="923.68" width="158.60" height="7.8" fill="#d2d2d2" stroke="#0c0c0c" stroke-width="1.9"/>
<rect x="226.00" y="926.38" width="156.60" height="2.4" fill="#b4b4b4"/>
<rect x="232.56" y="785.00" width="9.3" height="154.00" fill="#6e6e6e" stroke="#0c0c0c" stroke-width="1.9"/>
<rect x="236.01" y="786.00" width="2.4" height="152.00" fill="#979797"/>
<rect x="249.40" y="785.00" width="9.3" height="154.00" fill="#6e6e6e" stroke="#0c0c0c" stroke-width="1.9"/>
<rect x="252.85" y="786.00" width="2.4" height="152.00" fill="#979797"/>
<rect x="265.98" y="785.00" width="9.3" height="154.00" fill="#6e6e6e" stroke="#0c0c0c" stroke-width="1.9"/>
<rect x="269.43" y="786.00" width="2.4" height="152.00" fill="#979797"/>
<rect x="282.69" y="785.00" width="9.3" height="154.00" fill="#6e6e6e" stroke="#0c0c0c" stroke-width="1.9"/>
<rect x="286.14" y="786.00" width="2.4" height="152.00" fill="#979797"/>
<rect x="299.27" y="785.00" width="9.3" height="154.00" fill="#6e6e6e" stroke="#0c0c0c" stroke-width="1.9"/>
<rect x="302.72" y="786.00" width="2.4" height="152.00" fill="#979797"/>
<rect x="316.11" y="785.00" width="9.3" height="154.00" fill="#6e6e6e" stroke="#0c0c0c" stroke-width="1.9"/>
<rect x="319.56" y="786.00" width="2.4" height="152.00" fill="#979797"/>
<rect x="332.69" y="785.00" width="9.3" height="154.00" fill="#6e6e6e" stroke="#0c0c0c" stroke-width="1.9"/>
<rect x="336.14" y="786.00" width="2.4" height="152.00" fill="#979797"/>
<rect x="349.54" y="785.00" width="9.3" height="154.00" fill="#6e6e6e" stroke="#0c0c0c" stroke-width="1.9"/>
<rect x="352.99" y="786.00" width="2.4" height="152.00" fill="#979797"/>
<rect x="366.25" y="785.00" width="9.3" height="154.00" fill="#6e6e6e" stroke="#0c0c0c" stroke-width="1.9"/>
<rect x="369.70" y="786.00" width="2.4" height="152.00" fill="#979797"/>
<rect x="225.00" y="792.65" width="24.40" height="7.8" fill="#d2d2d2" stroke="#0c0c0c" stroke-width="1.9"/>
<rect x="226.50" y="795.35" width="21.40" height="2.4" fill="#b4b4b4"/>
<rect x="258.70" y="792.65" width="23.99" height="7.8" fill="#d2d2d2" stroke="#0c0c0c" stroke-width="1.9"/>
<rect x="260.20" y="795.35" width="20.99" height="2.4" fill="#b4b4b4"/>
<rect x="291.99" y="792.65" width="24.12" height="7.8" fill="#d2d2d2" stroke="#0c0c0c" stroke-width="1.9"/>
<rect x="293.49" y="795.35" width="21.12" height="2.4" fill="#b4b4b4"/>
<rect x="325.41" y="792.65" width="24.12" height="7.8" fill="#d2d2d2" stroke="#0c0c0c" stroke-width="1.9"/>
<rect x="326.91" y="795.35" width="21.12" height="2.4" fill="#b4b4b4"/>
<rect x="358.84" y="792.65" width="24.76" height="7.8" fill="#d2d2d2" stroke="#0c0c0c" stroke-width="1.9"/>
<rect x="360.34" y="795.35" width="21.76" height="2.4" fill="#b4b4b4"/>
<rect x="241.86" y="808.56" width="24.12" height="7.8" fill="#d2d2d2" stroke="#0c0c0c" stroke-width="1.9"/>
<rect x="243.36" y="811.26" width="21.12" height="2.4" fill="#b4b4b4"/>
<rect x="275.28" y="808.56" width="23.99" height="7.8" fill="#d2d2d2" stroke="#0c0c0c" stroke-width="1.9"/>
<rect x="276.78" y="811.26" width="20.99" height="2.4" fill="#b4b4b4"/>
<rect x="308.57" y="808.56" width="24.12" height="7.8" fill="#d2d2d2" stroke="#0c0c0c" stroke-width="1.9"/>
<rect x="310.07" y="811.26" width="21.12" height="2.4" fill="#b4b4b4"/>
<rect x="341.99" y="808.56" width="24.25" height="7.8" fill="#d2d2d2" stroke="#0c0c0c" stroke-width="1.9"/>
<rect x="343.49" y="811.26" width="21.25" height="2.4" fill="#b4b4b4"/>
<rect x="225.00" y="824.87" width="24.40" height="7.8" fill="#d2d2d2" stroke="#0c0c0c" stroke-width="1.9"/>
<rect x="226.50" y="827.57" width="21.40" height="2.4" fill="#b4b4b4"/>
<rect x="258.70" y="824.87" width="23.99" height="7.8" fill="#d2d2d2" stroke="#0c0c0c" stroke-width="1.9"/>
<rect x="260.20" y="827.57" width="20.99" height="2.4" fill="#b4b4b4"/>
<rect x="291.99" y="824.87" width="24.12" height="7.8" fill="#d2d2d2" stroke="#0c0c0c" stroke-width="1.9"/>
<rect x="293.49" y="827.57" width="21.12" height="2.4" fill="#b4b4b4"/>
<rect x="325.41" y="824.87" width="24.12" height="7.8" fill="#d2d2d2" stroke="#0c0c0c" stroke-width="1.9"/>
<rect x="326.91" y="827.57" width="21.12" height="2.4" fill="#b4b4b4"/>
<rect x="358.84" y="824.87" width="24.76" height="7.8" fill="#d2d2d2" stroke="#0c0c0c" stroke-width="1.9"/>
<rect x="360.34" y="827.57" width="21.76" height="2.4" fill="#b4b4b4"/>
<rect x="241.86" y="841.32" width="24.12" height="7.8" fill="#d2d2d2" stroke="#0c0c0c" stroke-width="1.9"/>
<rect x="243.36" y="844.02" width="21.12" height="2.4" fill="#b4b4b4"/>
<rect x="275.28" y="841.32" width="23.99" height="7.8" fill="#d2d2d2" stroke="#0c0c0c" stroke-width="1.9"/>
<rect x="276.78" y="844.02" width="20.99" height="2.4" fill="#b4b4b4"/>
<rect x="308.57" y="841.32" width="24.12" height="7.8" fill="#d2d2d2" stroke="#0c0c0c" stroke-width="1.9"/>
<rect x="310.07" y="844.02" width="21.12" height="2.4" fill="#b4b4b4"/>
<rect x="341.99" y="841.32" width="24.25" height="7.8" fill="#d2d2d2" stroke="#0c0c0c" stroke-width="1.9"/>
<rect x="343.49" y="844.02" width="21.25" height="2.4" fill="#b4b4b4"/>
<rect x="225.00" y="857.90" width="24.40" height="7.8" fill="#d2d2d2" stroke="#0c0c0c" stroke-width="1.9"/>
<rect x="226.50" y="860.60" width="21.40" height="2.4" fill="#b4b4b4"/>
<rect x="258.70" y="857.90" width="23.99" height="7.8" fill="#d2d2d2" stroke="#0c0c0c" stroke-width="1.9"/>
<rect x="260.20" y="860.60" width="20.99" height="2.4" fill="#b4b4b4"/>
<rect x="291.99" y="857.90" width="24.12" height="7.8" fill="#d2d2d2" stroke="#0c0c0c" stroke-width="1.9"/>
<rect x="293.49" y="860.60" width="21.12" height="2.4" fill="#b4b4b4"/>
<rect x="325.41" y="857.90" width="24.12" height="7.8" fill="#d2d2d2" stroke="#0c0c0c" stroke-width="1.9"/>
<rect x="326.91" y="860.60" width="21.12" height="2.4" fill="#b4b4b4"/>
<rect x="358.84" y="857.90" width="24.76" height="7.8" fill="#d2d2d2" stroke="#0c0c0c" stroke-width="1.9"/>
<rect x="360.34" y="860.60" width="21.76" height="2.4" fill="#b4b4b4"/>
<rect x="241.86" y="874.48" width="24.12" height="7.8" fill="#d2d2d2" stroke="#0c0c0c" stroke-width="1.9"/>
<rect x="243.36" y="877.18" width="21.12" height="2.4" fill="#b4b4b4"/>
<rect x="275.28" y="874.48" width="23.99" height="7.8" fill="#d2d2d2" stroke="#0c0c0c" stroke-width="1.9"/>
<rect x="276.78" y="877.18" width="20.99" height="2.4" fill="#b4b4b4"/>
<rect x="308.57" y="874.48" width="24.12" height="7.8" fill="#d2d2d2" stroke="#0c0c0c" stroke-width="1.9"/>
<rect x="310.07" y="877.18" width="21.12" height="2.4" fill="#b4b4b4"/>
<rect x="341.99" y="874.48" width="24.25" height="7.8" fill="#d2d2d2" stroke="#0c0c0c" stroke-width="1.9"/>
<rect x="343.49" y="877.18" width="21.25" height="2.4" fill="#b4b4b4"/>
<rect x="225.00" y="891.05" width="24.40" height="7.8" fill="#d2d2d2" stroke="#0c0c0c" stroke-width="1.9"/>
<rect x="226.50" y="893.75" width="21.40" height="2.4" fill="#b4b4b4"/>
<rect x="258.70" y="891.05" width="23.99" height="7.8" fill="#d2d2d2" stroke="#0c0c0c" stroke-width="1.9"/>
<rect x="260.20" y="893.75" width="20.99" height="2.4" fill="#b4b4b4"/>
<rect x="291.99" y="891.05" width="24.12" height="7.8" fill="#d2d2d2" stroke="#0c0c0c" stroke-width="1.9"/>
<rect x="293.49" y="893.75" width="21.12" height="2.4" fill="#b4b4b4"/>
<rect x="325.41" y="891.05" width="24.12" height="7.8" fill="#d2d2d2" stroke="#0c0c0c" stroke-width="1.9"/>
<rect x="326.91" y="893.75" width="21.12" height="2.4" fill="#b4b4b4"/>
<rect x="358.84" y="891.05" width="24.76" height="7.8" fill="#d2d2d2" stroke="#0c0c0c" stroke-width="1.9"/>
<rect x="360.34" y="893.75" width="21.76" height="2.4" fill="#b4b4b4"/>
<rect x="241.86" y="907.37" width="24.12" height="7.8" fill="#d2d2d2" stroke="#0c0c0c" stroke-width="1.9"/>
<rect x="243.36" y="910.07" width="21.12" height="2.4" fill="#b4b4b4"/>
<rect x="275.28" y="907.37" width="23.99" height="7.8" fill="#d2d2d2" stroke="#0c0c0c" stroke-width="1.9"/>
<rect x="276.78" y="910.07" width="20.99" height="2.4" fill="#b4b4b4"/>
<rect x="308.57" y="907.37" width="24.12" height="7.8" fill="#d2d2d2" stroke="#0c0c0c" stroke-width="1.9"/>
<rect x="310.07" y="910.07" width="21.12" height="2.4" fill="#b4b4b4"/>
<rect x="341.99" y="907.37" width="24.25" height="7.8" fill="#d2d2d2" stroke="#0c0c0c" stroke-width="1.9"/>
<rect x="343.49" y="910.07" width="21.25" height="2.4" fill="#b4b4b4"/>
<rect x="225.00" y="923.68" width="24.40" height="7.8" fill="#d2d2d2" stroke="#0c0c0c" stroke-width="1.9"/>
<rect x="226.50" y="926.38" width="21.40" height="2.4" fill="#b4b4b4"/>
<rect x="258.70" y="923.68" width="23.99" height="7.8" fill="#d2d2d2" stroke="#0c0c0c" stroke-width="1.9"/>
<rect x="260.20" y="926.38" width="20.99" height="2.4" fill="#b4b4b4"/>
<rect x="291.99" y="923.68" width="24.12" height="7.8" fill="#d2d2d2" stroke="#0c0c0c" stroke-width="1.9"/>
<rect x="293.49" y="926.38" width="21.12" height="2.4" fill="#b4b4b4"/>
<rect x="325.41" y="923.68" width="24.12" height="7.8" fill="#d2d2d2" stroke="#0c0c0c" stroke-width="1.9"/>
<rect x="326.91" y="926.38" width="21.12" height="2.4" fill="#b4b4b4"/>
<rect x="358.84" y="923.68" width="24.76" height="7.8" fill="#d2d2d2" stroke="#0c0c0c" stroke-width="1.9"/>
<rect x="360.34" y="926.38" width="21.76" height="2.4" fill="#b4b4b4"/>
<path d="M400.44,785.00 L400.25,786.28 L400.04,787.57 L399.81,788.85 L399.60,790.13 L399.40,791.42 L399.23,792.70 L399.11,793.98 L399.03,795.27 L399.00,796.55 L399.03,797.83 L399.11,799.12 L399.23,800.40 L399.40,801.68 L399.60,802.97 L399.82,804.25 L400.04,805.53 L400.25,806.82 L400.44,808.10 L400.60,809.38 L400.72,810.67 L400.78,811.95 L400.80,813.23 L400.76,814.52 L400.67,815.80 L400.53,817.08 L400.35,818.37 L400.15,819.65 L399.93,820.93 L399.71,822.22 L399.50,823.50 L399.32,824.78 L399.17,826.07 L399.06,827.35 L399.01,828.63 L399.01,829.92 L399.06,831.20 L399.16,832.48 L399.31,833.77 L399.49,835.05 L399.70,836.33 L399.92,837.62 L400.14,838.90 L400.34,840.18 L400.52,841.47 L400.66,842.75 L400.76,844.03 L400.80,845.32 L400.79,846.60 L400.72,847.88 L400.61,849.17 L400.45,850.45 L400.26,851.73 L400.05,853.02 L399.83,854.30 L399.61,855.58 L399.41,856.87 L399.24,858.15 L399.11,859.43 L399.03,860.72 L399.00,862.00 L399.02,863.28 L399.10,864.57 L399.23,865.85 L399.39,867.13 L399.59,868.42 L399.80,869.70 L400.03,870.98 L400.24,872.27 L400.43,873.55 L400.59,874.83 L400.71,876.12 L400.78,877.40 L400.80,878.68 L400.76,879.97 L400.67,881.25 L400.54,882.53 L400.36,883.82 L400.16,885.10 L399.94,886.38 L399.72,887.67 L399.51,888.95 L399.33,890.23 L399.17,891.52 L399.07,892.80 L399.01,894.08 L399.00,895.37 L399.05,896.65 L399.16,897.93 L399.30,899.22 L399.48,900.50 L399.69,901.78 L399.91,903.07 L400.13,904.35 L400.33,905.63 L400.51,906.92 L400.65,908.20 L400.75,909.48 L400.80,910.77 L400.79,912.05 L400.73,913.33 L400.61,914.62 L400.46,915.90 L400.27,917.18 L400.06,918.47 L399.84,919.75 L399.62,921.03 L399.42,922.32 L399.25,923.60 L399.12,924.88 L399.03,926.17 L399.00,927.45 L399.02,928.73 L399.10,930.02 L399.22,931.30 L399.38,932.58 L399.58,933.87 L399.79,935.15 L400.01,936.43 L400.23,937.72 L400.42,939.00" fill="none" stroke="#151515" stroke-width="5.4"/>
<path d="M400.44,785.00 L400.25,786.28 L400.04,787.57 L399.81,788.85 L399.60,790.13 L399.40,791.42 L399.23,792.70 L399.11,793.98 L399.03,795.27 L399.00,796.55 L399.03,797.83 L399.11,799.12 L399.23,800.40 L399.40,801.68 L399.60,802.97 L399.82,804.25 L400.04,805.53 L400.25,806.82 L400.44,808.10 L400.60,809.38 L400.72,810.67 L400.78,811.95 L400.80,813.23 L400.76,814.52 L400.67,815.80 L400.53,817.08 L400.35,818.37 L400.15,819.65 L399.93,820.93 L399.71,822.22 L399.50,823.50 L399.32,824.78 L399.17,826.07 L399.06,827.35 L399.01,828.63 L399.01,829.92 L399.06,831.20 L399.16,832.48 L399.31,833.77 L399.49,835.05 L399.70,836.33 L399.92,837.62 L400.14,838.90 L400.34,840.18 L400.52,841.47 L400.66,842.75 L400.76,844.03 L400.80,845.32 L400.79,846.60 L400.72,847.88 L400.61,849.17 L400.45,850.45 L400.26,851.73 L400.05,853.02 L399.83,854.30 L399.61,855.58 L399.41,856.87 L399.24,858.15 L399.11,859.43 L399.03,860.72 L399.00,862.00 L399.02,863.28 L399.10,864.57 L399.23,865.85 L399.39,867.13 L399.59,868.42 L399.80,869.70 L400.03,870.98 L400.24,872.27 L400.43,873.55 L400.59,874.83 L400.71,876.12 L400.78,877.40 L400.80,878.68 L400.76,879.97 L400.67,881.25 L400.54,882.53 L400.36,883.82 L400.16,885.10 L399.94,886.38 L399.72,887.67 L399.51,888.95 L399.33,890.23 L399.17,891.52 L399.07,892.80 L399.01,894.08 L399.00,895.37 L399.05,896.65 L399.16,897.93 L399.30,899.22 L399.48,900.50 L399.69,901.78 L399.91,903.07 L400.13,904.35 L400.33,905.63 L400.51,906.92 L400.65,908.20 L400.75,909.48 L400.80,910.77 L400.79,912.05 L400.73,913.33 L400.61,914.62 L400.46,915.90 L400.27,917.18 L400.06,918.47 L399.84,919.75 L399.62,921.03 L399.42,922.32 L399.25,923.60 L399.12,924.88 L399.03,926.17 L399.00,927.45 L399.02,928.73 L399.10,930.02 L399.22,931.30 L399.38,932.58 L399.58,933.87 L399.79,935.15 L400.01,936.43 L400.23,937.72 L400.42,939.00" fill="none" stroke="#b8b8b8" stroke-width="2.0"/>
<circle cx="404.70" cy="796.55" r="3.3" fill="#fff" stroke="#151515" stroke-width="1.6"/>
<circle cx="395.10" cy="812.46" r="3.3" fill="#fff" stroke="#151515" stroke-width="1.6"/>
<circle cx="404.70" cy="828.77" r="3.3" fill="#fff" stroke="#151515" stroke-width="1.6"/>
<circle cx="395.10" cy="845.22" r="3.3" fill="#fff" stroke="#151515" stroke-width="1.6"/>
<circle cx="404.70" cy="861.80" r="3.3" fill="#fff" stroke="#151515" stroke-width="1.6"/>
<circle cx="395.10" cy="878.38" r="3.3" fill="#fff" stroke="#151515" stroke-width="1.6"/>
<circle cx="404.70" cy="894.95" r="3.3" fill="#fff" stroke="#151515" stroke-width="1.6"/>
<circle cx="395.10" cy="911.27" r="3.3" fill="#fff" stroke="#151515" stroke-width="1.6"/>
<circle cx="404.70" cy="927.58" r="3.3" fill="#fff" stroke="#151515" stroke-width="1.6"/>
<clipPath id="cc"><rect x="199.25" y="694" width="637.5" height="507"/></clipPath>
<g clip-path="url(#cc)">
<line x1="266.05" y1="1129.05" x2="269.15" y2="1124.45" stroke="#ff0000" stroke-width="3.4" stroke-linecap="round" />
<line x1="285.97" y1="1106.05" x2="316.83" y2="1080.95" stroke="#ff0000" stroke-width="3.4" stroke-linecap="round" />
<line x1="335.48" y1="1064.06" x2="360.42" y2="1038.94" stroke="#ff0000" stroke-width="3.4" stroke-linecap="round" />
<line x1="377.74" y1="1020.65" x2="403.06" y2="992.60" stroke="#ff0000" stroke-width="3.4" stroke-linecap="round" />
<line x1="421.12" y1="975.12" x2="444.18" y2="955.63" stroke="#ff0000" stroke-width="3.4" stroke-linecap="round" />
<line x1="463.49" y1="939.45" x2="529.56" y2="884.55" stroke="#ff0000" stroke-width="3.4" stroke-linecap="round" />
<line x1="548.72" y1="868.18" x2="614.28" y2="810.57" stroke="#ff0000" stroke-width="3.4" stroke-linecap="round" />
<line x1="633.76" y1="794.60" x2="698.74" y2="744.90" stroke="#ff0000" stroke-width="3.4" stroke-linecap="round" />
<circle cx="199.25" cy="1201.00" r="7.3" fill="none" stroke="#ff3434" stroke-width="1.9"/>
<circle cx="210.50" cy="1183.50" r="7.3" fill="none" stroke="#ff3434" stroke-width="1.9"/>
<circle cx="222.50" cy="1174.50" r="7.3" fill="none" stroke="#ff3434" stroke-width="1.9"/>
<circle cx="233.00" cy="1164.50" r="7.3" fill="none" stroke="#ff3434" stroke-width="1.9"/>
<circle cx="242.00" cy="1153.00" r="7.3" fill="none" stroke="#ff3434" stroke-width="1.9"/>
<circle cx="259.00" cy="1139.50" r="7.3" fill="none" stroke="#ff3434" stroke-width="1.9"/>
<circle cx="276.20" cy="1114.00" r="7.3" fill="none" stroke="#ff3434" stroke-width="1.9"/>
<circle cx="326.60" cy="1073.00" r="7.3" fill="none" stroke="#ff3434" stroke-width="1.9"/>
<circle cx="369.30" cy="1030.00" r="7.3" fill="none" stroke="#ff3434" stroke-width="1.9"/>
<circle cx="411.50" cy="983.25" r="7.3" fill="none" stroke="#ff3434" stroke-width="1.9"/>
<circle cx="453.80" cy="947.50" r="7.3" fill="none" stroke="#ff3434" stroke-width="1.9"/>
<circle cx="539.25" cy="876.50" r="7.3" fill="none" stroke="#ff3434" stroke-width="1.9"/>
<circle cx="623.75" cy="802.25" r="7.3" fill="none" stroke="#ff3434" stroke-width="1.9"/>
<circle cx="708.75" cy="737.25" r="7.3" fill="none" stroke="#ff3434" stroke-width="1.9"/>
<line x1="208.89" y1="1193.86" x2="223.76" y2="1182.84" stroke="#0000ff" stroke-width="3.5" stroke-linecap="round" />
<line x1="262.13" y1="1159.88" x2="272.87" y2="1156.27" stroke="#0000ff" stroke-width="3.5" stroke-linecap="round" />
<line x1="294.46" y1="1146.14" x2="316.54" y2="1132.51" stroke="#0000ff" stroke-width="3.5" stroke-linecap="round" />
<line x1="337.62" y1="1121.11" x2="358.63" y2="1111.29" stroke="#0000ff" stroke-width="3.5" stroke-linecap="round" />
<line x1="379.57" y1="1099.68" x2="401.93" y2="1085.22" stroke="#0000ff" stroke-width="3.5" stroke-linecap="round" />
<line x1="422.88" y1="1073.64" x2="444.12" y2="1063.76" stroke="#0000ff" stroke-width="3.5" stroke-linecap="round" />
<line x1="466.10" y1="1054.13" x2="528.90" y2="1028.27" stroke="#0000ff" stroke-width="3.5" stroke-linecap="round" />
<line x1="550.86" y1="1018.59" x2="571.64" y2="1008.81" stroke="#0000ff" stroke-width="3.5" stroke-linecap="round" />
<line x1="593.37" y1="998.62" x2="613.38" y2="989.28" stroke="#0000ff" stroke-width="3.5" stroke-linecap="round" />
<line x1="635.21" y1="979.31" x2="655.29" y2="970.34" stroke="#0000ff" stroke-width="3.5" stroke-linecap="round" />
<line x1="677.74" y1="961.98" x2="697.76" y2="955.92" stroke="#0000ff" stroke-width="3.5" stroke-linecap="round" />
<line x1="719.91" y1="946.93" x2="741.09" y2="935.97" stroke="#0000ff" stroke-width="3.5" stroke-linecap="round" />
<line x1="763.09" y1="926.53" x2="782.41" y2="919.87" stroke="#0000ff" stroke-width="3.5" stroke-linecap="round" />
<polygon points="199.25,1190.47 190.45,1206.27 208.05,1206.27" fill="none" stroke="#3c3cff" stroke-width="1.9" stroke-linejoin="miter"/>
<polygon points="233.40,1165.17 224.60,1180.97 242.20,1180.97" fill="none" stroke="#3c3cff" stroke-width="1.9" stroke-linejoin="miter"/>
<polygon points="250.75,1153.17 241.95,1168.97 259.55,1168.97" fill="none" stroke="#3c3cff" stroke-width="1.9" stroke-linejoin="miter"/>
<polygon points="284.25,1141.92 275.45,1157.72 293.05,1157.72" fill="none" stroke="#3c3cff" stroke-width="1.9" stroke-linejoin="miter"/>
<polygon points="326.75,1115.67 317.95,1131.47 335.55,1131.47" fill="none" stroke="#3c3cff" stroke-width="1.9" stroke-linejoin="miter"/>
<polygon points="369.50,1095.67 360.70,1111.47 378.30,1111.47" fill="none" stroke="#3c3cff" stroke-width="1.9" stroke-linejoin="miter"/>
<polygon points="412.00,1068.17 403.20,1083.97 420.80,1083.97" fill="none" stroke="#3c3cff" stroke-width="1.9" stroke-linejoin="miter"/>
<polygon points="455.00,1048.17 446.20,1063.97 463.80,1063.97" fill="none" stroke="#3c3cff" stroke-width="1.9" stroke-linejoin="miter"/>
<polygon points="540.00,1013.17 531.20,1028.97 548.80,1028.97" fill="none" stroke="#3c3cff" stroke-width="1.9" stroke-linejoin="miter"/>
<polygon points="582.50,993.17 573.70,1008.97 591.30,1008.97" fill="none" stroke="#3c3cff" stroke-width="1.9" stroke-linejoin="miter"/>
<polygon points="624.25,973.67 615.45,989.47 633.05,989.47" fill="none" stroke="#3c3cff" stroke-width="1.9" stroke-linejoin="miter"/>
<polygon points="666.25,954.92 657.45,970.72 675.05,970.72" fill="none" stroke="#3c3cff" stroke-width="1.9" stroke-linejoin="miter"/>
<polygon points="709.25,941.92 700.45,957.72 718.05,957.72" fill="none" stroke="#3c3cff" stroke-width="1.9" stroke-linejoin="miter"/>
<polygon points="751.75,919.92 742.95,935.72 760.55,935.72" fill="none" stroke="#3c3cff" stroke-width="1.9" stroke-linejoin="miter"/>
<polygon points="793.75,905.42 784.95,921.22 802.55,921.22" fill="none" stroke="#3c3cff" stroke-width="1.9" stroke-linejoin="miter"/>
<line x1="210.34" y1="1196.41" x2="214.76" y2="1194.59" stroke="#ff6a00" stroke-width="3.8" stroke-linecap="round" />
<line x1="236.96" y1="1185.47" x2="240.74" y2="1183.93" stroke="#ff6a00" stroke-width="3.8" stroke-linecap="round" />
<line x1="263.49" y1="1176.49" x2="265.81" y2="1175.91" stroke="#ff6a00" stroke-width="3.8" stroke-linecap="round" />
<line x1="296.49" y1="1163.82" x2="299.01" y2="1162.68" stroke="#ff6a00" stroke-width="3.8" stroke-linecap="round" />
<line x1="338.68" y1="1146.76" x2="340.37" y2="1146.24" stroke="#ff6a00" stroke-width="3.8" stroke-linecap="round" />
<line x1="381.16" y1="1131.68" x2="391.89" y2="1128.32" stroke="#ff6a00" stroke-width="3.8" stroke-linecap="round" />
<line x1="414.86" y1="1121.37" x2="428.44" y2="1117.38" stroke="#ff6a00" stroke-width="3.8" stroke-linecap="round" />
<line x1="466.61" y1="1106.90" x2="486.29" y2="1102.10" stroke="#ff6a00" stroke-width="3.8" stroke-linecap="round" />
<line x1="509.58" y1="1096.31" x2="528.82" y2="1091.44" stroke="#ff6a00" stroke-width="3.8" stroke-linecap="round" />
<line x1="551.85" y1="1084.77" x2="571.05" y2="1078.48" stroke="#ff6a00" stroke-width="3.8" stroke-linecap="round" />
<line x1="594.21" y1="1072.36" x2="613.69" y2="1068.39" stroke="#ff6a00" stroke-width="3.8" stroke-linecap="round" />
<line x1="637.12" y1="1063.22" x2="655.78" y2="1058.78" stroke="#ff6a00" stroke-width="3.8" stroke-linecap="round" />
<line x1="679.02" y1="1052.80" x2="698.38" y2="1047.45" stroke="#ff6a00" stroke-width="3.8" stroke-linecap="round" />
<line x1="721.79" y1="1042.30" x2="740.61" y2="1039.20" stroke="#ff6a00" stroke-width="3.8" stroke-linecap="round" />
<line x1="763.81" y1="1033.38" x2="783.59" y2="1026.62" stroke="#ff6a00" stroke-width="3.8" stroke-linecap="round" />
<polygon points="189.65,1201.00 204.05,1192.20 204.05,1209.80" fill="none" stroke="#ff8a28" stroke-width="1.8" stroke-linejoin="miter"/>
<polygon points="216.25,1190.00 230.65,1181.20 230.65,1198.80" fill="none" stroke="#ff8a28" stroke-width="1.8" stroke-linejoin="miter"/>
<polygon points="242.25,1179.40 256.65,1170.60 256.65,1188.20" fill="none" stroke="#ff8a28" stroke-width="1.8" stroke-linejoin="miter"/>
<polygon points="267.85,1173.00 282.25,1164.20 282.25,1181.80" fill="none" stroke="#ff8a28" stroke-width="1.8" stroke-linejoin="miter"/>
<polygon points="275.95,1168.75 290.35,1159.95 290.35,1177.55" fill="none" stroke="#ff8a28" stroke-width="1.8" stroke-linejoin="miter"/>
<polygon points="300.35,1157.75 314.75,1148.95 314.75,1166.55" fill="none" stroke="#ff8a28" stroke-width="1.8" stroke-linejoin="miter"/>
<polygon points="317.60,1150.25 332.00,1141.45 332.00,1159.05" fill="none" stroke="#ff8a28" stroke-width="1.8" stroke-linejoin="miter"/>
<polygon points="342.25,1142.75 356.65,1133.95 356.65,1151.55" fill="none" stroke="#ff8a28" stroke-width="1.8" stroke-linejoin="miter"/>
<polygon points="360.10,1135.25 374.50,1126.45 374.50,1144.05" fill="none" stroke="#ff8a28" stroke-width="1.8" stroke-linejoin="miter"/>
<polygon points="393.75,1124.75 408.15,1115.95 408.15,1133.55" fill="none" stroke="#ff8a28" stroke-width="1.8" stroke-linejoin="miter"/>
<polygon points="430.35,1114.00 444.75,1105.20 444.75,1122.80" fill="none" stroke="#ff8a28" stroke-width="1.8" stroke-linejoin="miter"/>
<polygon points="445.35,1109.75 459.75,1100.95 459.75,1118.55" fill="none" stroke="#ff8a28" stroke-width="1.8" stroke-linejoin="miter"/>
<polygon points="488.35,1099.25 502.75,1090.45 502.75,1108.05" fill="none" stroke="#ff8a28" stroke-width="1.8" stroke-linejoin="miter"/>
<polygon points="530.85,1088.50 545.25,1079.70 545.25,1097.30" fill="none" stroke="#ff8a28" stroke-width="1.8" stroke-linejoin="miter"/>
<polygon points="572.85,1074.75 587.25,1065.95 587.25,1083.55" fill="none" stroke="#ff8a28" stroke-width="1.8" stroke-linejoin="miter"/>
<polygon points="615.85,1066.00 630.25,1057.20 630.25,1074.80" fill="none" stroke="#ff8a28" stroke-width="1.8" stroke-linejoin="miter"/>
<polygon points="657.85,1056.00 672.25,1047.20 672.25,1064.80" fill="none" stroke="#ff8a28" stroke-width="1.8" stroke-linejoin="miter"/>
<polygon points="700.35,1044.25 714.75,1035.45 714.75,1053.05" fill="none" stroke="#ff8a28" stroke-width="1.8" stroke-linejoin="miter"/>
<polygon points="742.85,1037.25 757.25,1028.45 757.25,1046.05" fill="none" stroke="#ff8a28" stroke-width="1.8" stroke-linejoin="miter"/>
<polygon points="785.35,1022.75 799.75,1013.95 799.75,1031.55" fill="none" stroke="#ff8a28" stroke-width="1.8" stroke-linejoin="miter"/>
</g>
<line x1="199.25" y1="694.00" x2="199.25" y2="1210.50" stroke="#2a2a2a" stroke-width="2.7" stroke-linecap="butt" />
<line x1="190.00" y1="1201.00" x2="836.75" y2="1201.00" stroke="#2a2a2a" stroke-width="2.7" stroke-linecap="butt" />
<line x1="194.50" y1="694.00" x2="837.95" y2="694.00" stroke="#2a2a2a" stroke-width="2.4" stroke-linecap="butt" />
<line x1="836.75" y1="694.00" x2="836.75" y2="1206.75" stroke="#2a2a2a" stroke-width="2.5" stroke-linecap="butt" />
<line x1="190.00" y1="1055.92" x2="199.25" y2="1055.92" stroke="#111" stroke-width="2.0" stroke-linecap="butt" />
<line x1="190.00" y1="910.84" x2="199.25" y2="910.84" stroke="#111" stroke-width="2.0" stroke-linecap="butt" />
<line x1="190.00" y1="765.76" x2="199.25" y2="765.76" stroke="#111" stroke-width="2.0" stroke-linecap="butt" />
<line x1="194.50" y1="1128.46" x2="199.25" y2="1128.46" stroke="#111" stroke-width="2.0" stroke-linecap="butt" />
<line x1="194.50" y1="983.38" x2="199.25" y2="983.38" stroke="#111" stroke-width="2.0" stroke-linecap="butt" />
<line x1="194.50" y1="838.30" x2="199.25" y2="838.30" stroke="#111" stroke-width="2.0" stroke-linecap="butt" />
<line x1="241.71" y1="1201.00" x2="241.71" y2="1206.75" stroke="#111" stroke-width="2.0" stroke-linecap="butt" />
<line x1="284.18" y1="1201.00" x2="284.18" y2="1210.25" stroke="#111" stroke-width="2.0" stroke-linecap="butt" />
<line x1="326.64" y1="1201.00" x2="326.64" y2="1206.75" stroke="#111" stroke-width="2.0" stroke-linecap="butt" />
<line x1="369.11" y1="1201.00" x2="369.11" y2="1210.25" stroke="#111" stroke-width="2.0" stroke-linecap="butt" />
<line x1="411.57" y1="1201.00" x2="411.57" y2="1206.75" stroke="#111" stroke-width="2.0" stroke-linecap="butt" />
<line x1="454.03" y1="1201.00" x2="454.03" y2="1210.25" stroke="#111" stroke-width="2.0" stroke-linecap="butt" />
<line x1="496.50" y1="1201.00" x2="496.50" y2="1206.75" stroke="#111" stroke-width="2.0" stroke-linecap="butt" />
<line x1="538.96" y1="1201.00" x2="538.96" y2="1210.25" stroke="#111" stroke-width="2.0" stroke-linecap="butt" />
<line x1="581.43" y1="1201.00" x2="581.43" y2="1206.75" stroke="#111" stroke-width="2.0" stroke-linecap="butt" />
<line x1="623.89" y1="1201.00" x2="623.89" y2="1210.25" stroke="#111" stroke-width="2.0" stroke-linecap="butt" />
<line x1="666.35" y1="1201.00" x2="666.35" y2="1206.75" stroke="#111" stroke-width="2.0" stroke-linecap="butt" />
<line x1="708.82" y1="1201.00" x2="708.82" y2="1210.25" stroke="#111" stroke-width="2.0" stroke-linecap="butt" />
<line x1="751.28" y1="1201.00" x2="751.28" y2="1206.75" stroke="#111" stroke-width="2.0" stroke-linecap="butt" />
<line x1="793.75" y1="1201.00" x2="793.75" y2="1210.25" stroke="#111" stroke-width="2.0" stroke-linecap="butt" />
<text transform="translate(1.96,738.25) scale(0.8968,1.0000)" font-size="40" fill="#000" stroke="#000" stroke-width="0.3">C.</text>
<text transform="translate(274.02,744.00) scale(0.9817,1.0000)" font-size="40.2" font-weight="bold" fill="#000" stroke="#000" stroke-width="0.7">CC-3257</text>
<text transform="translate(115.37,777.75) scale(1.0870,1.0000)" font-size="40" fill="#000" stroke="#000" stroke-width="0.3">30</text>
<text transform="translate(114.80,924.00) scale(1.1002,1.0000)" font-size="40" fill="#000" stroke="#000" stroke-width="0.3">20</text>
<text transform="translate(115.50,1070.25) scale(1.0840,1.0000)" font-size="40" fill="#000" stroke="#000" stroke-width="0.3">10</text>
<text transform="translate(126.97,1214.75) scale(1.1126,1.0000)" font-size="40" fill="#000" stroke="#000" stroke-width="0.3">0</text>
<text transform="translate(187.51,1256.00) scale(1.0864,1.0000)" font-size="40" fill="#000" stroke="#000" stroke-width="0.3">0</text>
<text transform="translate(257.06,1252.75) scale(1.0557,1.0000)" font-size="40" fill="#000" stroke="#000" stroke-width="0.3">0.1</text>
<text transform="translate(339.52,1252.75) scale(1.0817,1.0000)" font-size="40" fill="#000" stroke="#000" stroke-width="0.3">0.2</text>
<text transform="translate(424.79,1252.75) scale(1.0707,1.0000)" font-size="40" fill="#000" stroke="#000" stroke-width="0.3">0.3</text>
<text transform="translate(510.28,1252.75) scale(1.0728,1.0000)" font-size="40" fill="#000" stroke="#000" stroke-width="0.3">0.4</text>
<text transform="translate(594.53,1252.75) scale(1.0735,1.0000)" font-size="40" fill="#000" stroke="#000" stroke-width="0.3">0.5</text>
<text transform="translate(679.01,1252.75) scale(1.0851,1.0000)" font-size="40" fill="#000" stroke="#000" stroke-width="0.3">0.6</text>
<text transform="translate(763.27,1252.75) scale(1.0817,1.0000)" font-size="40" fill="#000" stroke="#000" stroke-width="0.3">0.7</text>
<text transform="translate(411.64,1318.60) scale(1.0561,1.0000)" font-size="40" fill="#000" stroke="#000" stroke-width="0.3">Current</text>
<text transform="translate(567.04,1325.50) skewX(-4.694) scale(1.15,1.34)" font-size="40" fill="#000" stroke="#000" stroke-width="0.3">/</text>
<text transform="translate(593.91,1318.60) scale(0.9434,1.0000)" font-size="40" fill="#000" stroke="#000" stroke-width="0.3">A</text>
<text transform="translate(89.20,1122.12) rotate(-90) scale(1.0675,1.0000)" font-size="40" fill="#000" stroke="#000" stroke-width="0.3">Potential</text>
<text transform="translate(89.20,944.46) rotate(-90) scale(1.0913,1.0000)" font-size="40" fill="#000" stroke="#000" stroke-width="0.3">drop</text>
<text transform="translate(96.10,846.05) rotate(-90) skewX(-5.560) scale(1.15,1.34)" font-size="40" fill="#000" stroke="#000" stroke-width="0.3">/</text>
<text transform="translate(89.20,815.38) rotate(-90) scale(0.8859,1.0000)" font-size="40" fill="#000" stroke="#000" stroke-width="0.3">V</text>
<text transform="translate(551.73,761.50) scale(1.0133,1.0000)" font-size="40" fill="#000" stroke="#000" stroke-width="0.3">38</text>
<text transform="translate(608.18,761.50) scale(1.0714,1.0000)" font-size="40" fill="#000" stroke="#000" stroke-width="0.3">cm</text>
<text transform="translate(615.61,917.00) scale(0.9474,1.0000)" font-size="40" fill="#000" stroke="#000" stroke-width="0.3">20</text>
<text transform="translate(671.93,917.00) scale(1.0714,1.0000)" font-size="40" fill="#000" stroke="#000" stroke-width="0.3">cm</text>
<text transform="translate(623.02,1116.00) scale(1.0758,1.0000)" font-size="40" fill="#000" stroke="#000" stroke-width="0.3">10.5</text>
<text transform="translate(715.20,1116.00) scale(1.0561,1.0000)" font-size="40" fill="#000" stroke="#000" stroke-width="0.3">cm</text>
<rect x="1180.00" y="792.65" width="156.20" height="7.8" fill="#d2d2d2" stroke="#0c0c0c" stroke-width="1.9"/>
<rect x="1181.00" y="795.35" width="154.20" height="2.4" fill="#b4b4b4"/>
<rect x="1180.00" y="808.56" width="156.20" height="7.8" fill="#d2d2d2" stroke="#0c0c0c" stroke-width="1.9"/>
<rect x="1181.00" y="811.26" width="154.20" height="2.4" fill="#b4b4b4"/>
<rect x="1180.00" y="824.87" width="156.20" height="7.8" fill="#d2d2d2" stroke="#0c0c0c" stroke-width="1.9"/>
<rect x="1181.00" y="827.57" width="154.20" height="2.4" fill="#b4b4b4"/>
<rect x="1180.00" y="841.32" width="156.20" height="7.8" fill="#d2d2d2" stroke="#0c0c0c" stroke-width="1.9"/>
<rect x="1181.00" y="844.02" width="154.20" height="2.4" fill="#b4b4b4"/>
<rect x="1180.00" y="857.90" width="156.20" height="7.8" fill="#d2d2d2" stroke="#0c0c0c" stroke-width="1.9"/>
<rect x="1181.00" y="860.60" width="154.20" height="2.4" fill="#b4b4b4"/>
<rect x="1180.00" y="874.48" width="156.20" height="7.8" fill="#d2d2d2" stroke="#0c0c0c" stroke-width="1.9"/>
<rect x="1181.00" y="877.18" width="154.20" height="2.4" fill="#b4b4b4"/>
<rect x="1180.00" y="891.05" width="156.20" height="7.8" fill="#d2d2d2" stroke="#0c0c0c" stroke-width="1.9"/>
<rect x="1181.00" y="893.75" width="154.20" height="2.4" fill="#b4b4b4"/>
<rect x="1180.00" y="907.37" width="156.20" height="7.8" fill="#d2d2d2" stroke="#0c0c0c" stroke-width="1.9"/>
<rect x="1181.00" y="910.07" width="154.20" height="2.4" fill="#b4b4b4"/>
<rect x="1180.00" y="923.68" width="156.20" height="7.8" fill="#d2d2d2" stroke="#0c0c0c" stroke-width="1.9"/>
<rect x="1181.00" y="926.38" width="154.20" height="2.4" fill="#b4b4b4"/>
<rect x="1187.05" y="785.00" width="9.0" height="154.00" fill="#6e6e6e" stroke="#0c0c0c" stroke-width="1.9"/>
<rect x="1190.35" y="786.00" width="2.4" height="152.00" fill="#979797"/>
<rect x="1203.62" y="785.00" width="9.0" height="154.00" fill="#6e6e6e" stroke="#0c0c0c" stroke-width="1.9"/>
<rect x="1206.92" y="786.00" width="2.4" height="152.00" fill="#979797"/>
<rect x="1220.20" y="785.00" width="9.0" height="154.00" fill="#6e6e6e" stroke="#0c0c0c" stroke-width="1.9"/>
<rect x="1223.50" y="786.00" width="2.4" height="152.00" fill="#979797"/>
<rect x="1236.78" y="785.00" width="9.0" height="154.00" fill="#6e6e6e" stroke="#0c0c0c" stroke-width="1.9"/>
<rect x="1240.08" y="786.00" width="2.4" height="152.00" fill="#979797"/>
<rect x="1253.36" y="785.00" width="9.0" height="154.00" fill="#6e6e6e" stroke="#0c0c0c" stroke-width="1.9"/>
<rect x="1256.66" y="786.00" width="2.4" height="152.00" fill="#979797"/>
<rect x="1269.67" y="785.00" width="9.0" height="154.00" fill="#6e6e6e" stroke="#0c0c0c" stroke-width="1.9"/>
<rect x="1272.97" y="786.00" width="2.4" height="152.00" fill="#979797"/>
<rect x="1286.12" y="785.00" width="9.0" height="154.00" fill="#6e6e6e" stroke="#0c0c0c" stroke-width="1.9"/>
<rect x="1289.42" y="786.00" width="2.4" height="152.00" fill="#979797"/>
<rect x="1302.83" y="785.00" width="9.0" height="154.00" fill="#6e6e6e" stroke="#0c0c0c" stroke-width="1.9"/>
<rect x="1306.13" y="786.00" width="2.4" height="152.00" fill="#979797"/>
<rect x="1319.01" y="785.00" width="9.0" height="154.00" fill="#6e6e6e" stroke="#0c0c0c" stroke-width="1.9"/>
<rect x="1322.31" y="786.00" width="2.4" height="152.00" fill="#979797"/>
<rect x="1196.05" y="792.65" width="40.73" height="7.8" fill="#d2d2d2" stroke="#0c0c0c" stroke-width="1.9"/>
<rect x="1197.55" y="795.35" width="37.73" height="2.4" fill="#b4b4b4"/>
<rect x="1262.36" y="792.65" width="40.47" height="7.8" fill="#d2d2d2" stroke="#0c0c0c" stroke-width="1.9"/>
<rect x="1263.86" y="795.35" width="37.47" height="2.4" fill="#b4b4b4"/>
<rect x="1311.83" y="792.65" width="24.37" height="7.8" fill="#d2d2d2" stroke="#0c0c0c" stroke-width="1.9"/>
<rect x="1313.33" y="795.35" width="21.37" height="2.4" fill="#b4b4b4"/>
<rect x="1212.62" y="808.56" width="40.73" height="7.8" fill="#d2d2d2" stroke="#0c0c0c" stroke-width="1.9"/>
<rect x="1214.12" y="811.26" width="37.73" height="2.4" fill="#b4b4b4"/>
<rect x="1278.67" y="808.56" width="40.34" height="7.8" fill="#d2d2d2" stroke="#0c0c0c" stroke-width="1.9"/>
<rect x="1280.17" y="811.26" width="37.34" height="2.4" fill="#b4b4b4"/>
<rect x="1180.00" y="824.87" width="23.62" height="7.8" fill="#d2d2d2" stroke="#0c0c0c" stroke-width="1.9"/>
<rect x="1181.50" y="827.57" width="20.62" height="2.4" fill="#b4b4b4"/>
<rect x="1229.20" y="824.87" width="40.47" height="7.8" fill="#d2d2d2" stroke="#0c0c0c" stroke-width="1.9"/>
<rect x="1230.70" y="827.57" width="37.47" height="2.4" fill="#b4b4b4"/>
<rect x="1295.12" y="824.87" width="41.08" height="7.8" fill="#d2d2d2" stroke="#0c0c0c" stroke-width="1.9"/>
<rect x="1296.62" y="827.57" width="38.08" height="2.4" fill="#b4b4b4"/>
<rect x="1180.00" y="841.32" width="40.20" height="7.8" fill="#d2d2d2" stroke="#0c0c0c" stroke-width="1.9"/>
<rect x="1181.50" y="844.02" width="37.20" height="2.4" fill="#b4b4b4"/>
<rect x="1245.78" y="841.32" width="40.34" height="7.8" fill="#d2d2d2" stroke="#0c0c0c" stroke-width="1.9"/>
<rect x="1247.28" y="844.02" width="37.34" height="2.4" fill="#b4b4b4"/>
<rect x="1311.83" y="841.32" width="24.37" height="7.8" fill="#d2d2d2" stroke="#0c0c0c" stroke-width="1.9"/>
<rect x="1313.33" y="844.02" width="21.37" height="2.4" fill="#b4b4b4"/>
<rect x="1196.05" y="857.90" width="40.73" height="7.8" fill="#d2d2d2" stroke="#0c0c0c" stroke-width="1.9"/>
<rect x="1197.55" y="860.60" width="37.73" height="2.4" fill="#b4b4b4"/>
<rect x="1262.36" y="857.90" width="40.47" height="7.8" fill="#d2d2d2" stroke="#0c0c0c" stroke-width="1.9"/>
<rect x="1263.86" y="860.60" width="37.47" height="2.4" fill="#b4b4b4"/>
<rect x="1212.62" y="874.48" width="40.73" height="7.8" fill="#d2d2d2" stroke="#0c0c0c" stroke-width="1.9"/>
<rect x="1214.12" y="877.18" width="37.73" height="2.4" fill="#b4b4b4"/>
<rect x="1278.67" y="874.48" width="40.34" height="7.8" fill="#d2d2d2" stroke="#0c0c0c" stroke-width="1.9"/>
<rect x="1280.17" y="877.18" width="37.34" height="2.4" fill="#b4b4b4"/>
<rect x="1180.00" y="891.05" width="23.62" height="7.8" fill="#d2d2d2" stroke="#0c0c0c" stroke-width="1.9"/>
<rect x="1181.50" y="893.75" width="20.62" height="2.4" fill="#b4b4b4"/>
<rect x="1229.20" y="891.05" width="40.47" height="7.8" fill="#d2d2d2" stroke="#0c0c0c" stroke-width="1.9"/>
<rect x="1230.70" y="893.75" width="37.47" height="2.4" fill="#b4b4b4"/>
<rect x="1295.12" y="891.05" width="41.08" height="7.8" fill="#d2d2d2" stroke="#0c0c0c" stroke-width="1.9"/>
<rect x="1296.62" y="893.75" width="38.08" height="2.4" fill="#b4b4b4"/>
<rect x="1180.00" y="907.37" width="40.20" height="7.8" fill="#d2d2d2" stroke="#0c0c0c" stroke-width="1.9"/>
<rect x="1181.50" y="910.07" width="37.20" height="2.4" fill="#b4b4b4"/>
<rect x="1245.78" y="907.37" width="40.34" height="7.8" fill="#d2d2d2" stroke="#0c0c0c" stroke-width="1.9"/>
<rect x="1247.28" y="910.07" width="37.34" height="2.4" fill="#b4b4b4"/>
<rect x="1311.83" y="907.37" width="24.37" height="7.8" fill="#d2d2d2" stroke="#0c0c0c" stroke-width="1.9"/>
<rect x="1313.33" y="910.07" width="21.37" height="2.4" fill="#b4b4b4"/>
<rect x="1196.05" y="923.68" width="40.73" height="7.8" fill="#d2d2d2" stroke="#0c0c0c" stroke-width="1.9"/>
<rect x="1197.55" y="926.38" width="37.73" height="2.4" fill="#b4b4b4"/>
<rect x="1262.36" y="923.68" width="40.47" height="7.8" fill="#d2d2d2" stroke="#0c0c0c" stroke-width="1.9"/>
<rect x="1263.86" y="926.38" width="37.47" height="2.4" fill="#b4b4b4"/>
<path d="M1355.24,783.50 L1354.87,784.79 L1354.49,786.08 L1354.10,787.36 L1353.71,788.65 L1353.32,789.94 L1352.93,791.23 L1352.56,792.51 L1352.20,793.80 L1351.87,795.09 L1351.57,796.38 L1351.31,797.66 L1351.08,798.95 L1350.89,800.24 L1350.75,801.52 L1350.65,802.81 L1350.61,804.10 L1350.61,805.39 L1350.66,806.67 L1350.75,807.96 L1350.90,809.25 L1351.08,810.54 L1351.31,811.83 L1351.58,813.11 L1351.88,814.40 L1352.21,815.69 L1352.56,816.98 L1352.94,818.26 L1353.32,819.55 L1353.71,820.84 L1354.11,822.12 L1354.50,823.41 L1354.88,824.70 L1355.24,825.99 L1355.58,827.27 L1355.90,828.56 L1356.18,829.85 L1356.42,831.14 L1356.63,832.42 L1356.79,833.71 L1356.91,835.00 L1356.98,836.29 L1357.00,837.58 L1356.97,838.86 L1356.90,840.15 L1356.77,841.44 L1356.61,842.73 L1356.39,844.01 L1356.14,845.30 L1355.86,846.59 L1355.54,847.88 L1355.20,849.16 L1354.83,850.45 L1354.45,851.74 L1354.06,853.02 L1353.67,854.31 L1353.27,855.60 L1352.89,856.89 L1352.52,858.17 L1352.17,859.46 L1351.84,860.75 L1351.54,862.04 L1351.28,863.33 L1351.06,864.61 L1350.87,865.90 L1350.74,867.19 L1350.65,868.48 L1350.60,869.76 L1350.61,871.05 L1350.66,872.34 L1350.77,873.62 L1350.91,874.91 L1351.11,876.20 L1351.34,877.49 L1351.61,878.77 L1351.91,880.06 L1352.25,881.35 L1352.60,882.64 L1352.98,883.92 L1353.37,885.21 L1353.76,886.50 L1354.15,887.79 L1354.54,889.08 L1354.92,890.36 L1355.28,891.65 L1355.62,892.94 L1355.93,894.23 L1356.21,895.51 L1356.45,896.80 L1356.65,898.09 L1356.81,899.38 L1356.92,900.66 L1356.98,901.95 L1357.00,903.24 L1356.97,904.52 L1356.89,905.81 L1356.76,907.10 L1356.58,908.39 L1356.37,909.67 L1356.11,910.96 L1355.82,912.25 L1355.50,913.54 L1355.16,914.83 L1354.79,916.11 L1354.41,917.40 L1354.02,918.69 L1353.62,919.98 L1353.23,921.26 L1352.85,922.55 L1352.48,923.84 L1352.13,925.12 L1351.80,926.41 L1351.51,927.70 L1351.25,928.99 L1351.03,930.27 L1350.86,931.56 L1350.72,932.85 L1350.64,934.14 L1350.60,935.42 L1350.61,936.71 L1350.67,938.00" fill="none" stroke="#151515" stroke-width="5.4"/>
<path d="M1355.24,783.50 L1354.87,784.79 L1354.49,786.08 L1354.10,787.36 L1353.71,788.65 L1353.32,789.94 L1352.93,791.23 L1352.56,792.51 L1352.20,793.80 L1351.87,795.09 L1351.57,796.38 L1351.31,797.66 L1351.08,798.95 L1350.89,800.24 L1350.75,801.52 L1350.65,802.81 L1350.61,804.10 L1350.61,805.39 L1350.66,806.67 L1350.75,807.96 L1350.90,809.25 L1351.08,810.54 L1351.31,811.83 L1351.58,813.11 L1351.88,814.40 L1352.21,815.69 L1352.56,816.98 L1352.94,818.26 L1353.32,819.55 L1353.71,820.84 L1354.11,822.12 L1354.50,823.41 L1354.88,824.70 L1355.24,825.99 L1355.58,827.27 L1355.90,828.56 L1356.18,829.85 L1356.42,831.14 L1356.63,832.42 L1356.79,833.71 L1356.91,835.00 L1356.98,836.29 L1357.00,837.58 L1356.97,838.86 L1356.90,840.15 L1356.77,841.44 L1356.61,842.73 L1356.39,844.01 L1356.14,845.30 L1355.86,846.59 L1355.54,847.88 L1355.20,849.16 L1354.83,850.45 L1354.45,851.74 L1354.06,853.02 L1353.67,854.31 L1353.27,855.60 L1352.89,856.89 L1352.52,858.17 L1352.17,859.46 L1351.84,860.75 L1351.54,862.04 L1351.28,863.33 L1351.06,864.61 L1350.87,865.90 L1350.74,867.19 L1350.65,868.48 L1350.60,869.76 L1350.61,871.05 L1350.66,872.34 L1350.77,873.62 L1350.91,874.91 L1351.11,876.20 L1351.34,877.49 L1351.61,878.77 L1351.91,880.06 L1352.25,881.35 L1352.60,882.64 L1352.98,883.92 L1353.37,885.21 L1353.76,886.50 L1354.15,887.79 L1354.54,889.08 L1354.92,890.36 L1355.28,891.65 L1355.62,892.94 L1355.93,894.23 L1356.21,895.51 L1356.45,896.80 L1356.65,898.09 L1356.81,899.38 L1356.92,900.66 L1356.98,901.95 L1357.00,903.24 L1356.97,904.52 L1356.89,905.81 L1356.76,907.10 L1356.58,908.39 L1356.37,909.67 L1356.11,910.96 L1355.82,912.25 L1355.50,913.54 L1355.16,914.83 L1354.79,916.11 L1354.41,917.40 L1354.02,918.69 L1353.62,919.98 L1353.23,921.26 L1352.85,922.55 L1352.48,923.84 L1352.13,925.12 L1351.80,926.41 L1351.51,927.70 L1351.25,928.99 L1351.03,930.27 L1350.86,931.56 L1350.72,932.85 L1350.64,934.14 L1350.60,935.42 L1350.61,936.71 L1350.67,938.00" fill="none" stroke="#b8b8b8" stroke-width="2.0"/>
<circle cx="1357.04" cy="796.55" r="3.1" fill="#fff" stroke="#151515" stroke-width="1.6"/>
<circle cx="1356.94" cy="812.46" r="3.1" fill="#fff" stroke="#151515" stroke-width="1.6"/>
<circle cx="1350.44" cy="828.77" r="3.1" fill="#fff" stroke="#151515" stroke-width="1.6"/>
<circle cx="1350.66" cy="845.22" r="3.1" fill="#fff" stroke="#151515" stroke-width="1.6"/>
<circle cx="1357.10" cy="861.80" r="3.1" fill="#fff" stroke="#151515" stroke-width="1.6"/>
<circle cx="1357.02" cy="878.38" r="3.1" fill="#fff" stroke="#151515" stroke-width="1.6"/>
<circle cx="1350.59" cy="894.95" r="3.1" fill="#fff" stroke="#151515" stroke-width="1.6"/>
<circle cx="1350.55" cy="911.27" r="3.1" fill="#fff" stroke="#151515" stroke-width="1.6"/>
<circle cx="1357.04" cy="927.58" r="3.1" fill="#fff" stroke="#151515" stroke-width="1.6"/>
<line x1="1150.10" y1="1201.00" x2="1790.20" y2="690.25" stroke="#000" stroke-width="3.1" stroke-linecap="butt" />
<circle cx="1190.00" cy="1168.00" r="8.1" fill="#000" stroke="none" stroke-width="0"/>
<circle cx="1213.75" cy="1149.75" r="8.1" fill="#000" stroke="none" stroke-width="0"/>
<circle cx="1230.00" cy="1137.25" r="8.1" fill="#000" stroke="none" stroke-width="0"/>
<circle cx="1245.75" cy="1124.75" r="8.1" fill="#000" stroke="none" stroke-width="0"/>
<circle cx="1269.50" cy="1103.50" r="8.1" fill="#000" stroke="none" stroke-width="0"/>
<circle cx="1310.00" cy="1074.00" r="8.1" fill="#000" stroke="none" stroke-width="0"/>
<circle cx="1350.00" cy="1039.75" r="8.1" fill="#000" stroke="none" stroke-width="0"/>
<circle cx="1390.00" cy="1005.50" r="8.1" fill="#000" stroke="none" stroke-width="0"/>
<circle cx="1430.00" cy="975.25" r="8.1" fill="#000" stroke="none" stroke-width="0"/>
<circle cx="1470.00" cy="945.25" r="8.1" fill="#000" stroke="none" stroke-width="0"/>
<circle cx="1510.50" cy="915.25" r="8.1" fill="#000" stroke="none" stroke-width="0"/>
<circle cx="1550.00" cy="885.75" r="8.1" fill="#000" stroke="none" stroke-width="0"/>
<circle cx="1590.00" cy="851.50" r="8.1" fill="#000" stroke="none" stroke-width="0"/>
<circle cx="1630.00" cy="817.75" r="8.1" fill="#000" stroke="none" stroke-width="0"/>
<circle cx="1670.00" cy="788.25" r="8.1" fill="#000" stroke="none" stroke-width="0"/>
<circle cx="1710.00" cy="754.00" r="8.1" fill="#000" stroke="none" stroke-width="0"/>
<line x1="1150.10" y1="690.25" x2="1150.10" y2="1211.00" stroke="#2a2a2a" stroke-width="2.7" stroke-linecap="butt" />
<line x1="1139.50" y1="1201.00" x2="1790.20" y2="1201.00" stroke="#2a2a2a" stroke-width="2.7" stroke-linecap="butt" />
<line x1="1139.50" y1="690.25" x2="1791.40" y2="690.25" stroke="#2a2a2a" stroke-width="2.6" stroke-linecap="butt" />
<line x1="1790.20" y1="690.25" x2="1790.20" y2="1211.00" stroke="#2a2a2a" stroke-width="2.5" stroke-linecap="butt" />
<line x1="1144.50" y1="1158.44" x2="1150.10" y2="1158.44" stroke="#111" stroke-width="2.0" stroke-linecap="butt" />
<line x1="1139.50" y1="1115.88" x2="1150.10" y2="1115.88" stroke="#111" stroke-width="2.0" stroke-linecap="butt" />
<line x1="1144.50" y1="1073.31" x2="1150.10" y2="1073.31" stroke="#111" stroke-width="2.0" stroke-linecap="butt" />
<line x1="1139.50" y1="1030.75" x2="1150.10" y2="1030.75" stroke="#111" stroke-width="2.0" stroke-linecap="butt" />
<line x1="1144.50" y1="988.19" x2="1150.10" y2="988.19" stroke="#111" stroke-width="2.0" stroke-linecap="butt" />
<line x1="1139.50" y1="945.62" x2="1150.10" y2="945.62" stroke="#111" stroke-width="2.0" stroke-linecap="butt" />
<line x1="1144.50" y1="903.06" x2="1150.10" y2="903.06" stroke="#111" stroke-width="2.0" stroke-linecap="butt" />
<line x1="1139.50" y1="860.50" x2="1150.10" y2="860.50" stroke="#111" stroke-width="2.0" stroke-linecap="butt" />
<line x1="1144.50" y1="817.94" x2="1150.10" y2="817.94" stroke="#111" stroke-width="2.0" stroke-linecap="butt" />
<line x1="1139.50" y1="775.38" x2="1150.10" y2="775.38" stroke="#111" stroke-width="2.0" stroke-linecap="butt" />
<line x1="1144.50" y1="732.81" x2="1150.10" y2="732.81" stroke="#111" stroke-width="2.0" stroke-linecap="butt" />
<line x1="1230.11" y1="1201.00" x2="1230.11" y2="1206.75" stroke="#111" stroke-width="2.0" stroke-linecap="butt" />
<line x1="1310.12" y1="1201.00" x2="1310.12" y2="1211.00" stroke="#111" stroke-width="2.0" stroke-linecap="butt" />
<line x1="1390.14" y1="1201.00" x2="1390.14" y2="1206.75" stroke="#111" stroke-width="2.0" stroke-linecap="butt" />
<line x1="1470.15" y1="1201.00" x2="1470.15" y2="1211.00" stroke="#111" stroke-width="2.0" stroke-linecap="butt" />
<line x1="1550.16" y1="1201.00" x2="1550.16" y2="1206.75" stroke="#111" stroke-width="2.0" stroke-linecap="butt" />
<line x1="1630.17" y1="1201.00" x2="1630.17" y2="1211.00" stroke="#111" stroke-width="2.0" stroke-linecap="butt" />
<line x1="1710.19" y1="1201.00" x2="1710.19" y2="1206.75" stroke="#111" stroke-width="2.0" stroke-linecap="butt" />
<text transform="translate(946.71,738.25) scale(0.9970,1.0000)" font-size="40" fill="#000" stroke="#000" stroke-width="0.3">D.</text>
<text transform="translate(1220.21,741.50) scale(0.9919,1.0000)" font-size="40.2" font-weight="bold" fill="#000" stroke="#000" stroke-width="0.7">CC-3872</text>
<text transform="translate(1055.56,704.00) scale(1.0623,1.0000)" font-size="40" fill="#000" stroke="#000" stroke-width="0.3">1.2</text>
<text transform="translate(1055.52,790.25) scale(1.0763,1.0000)" font-size="40" fill="#000" stroke="#000" stroke-width="0.3">1.0</text>
<text transform="translate(1054.51,875.25) scale(1.0851,1.0000)" font-size="40" fill="#000" stroke="#000" stroke-width="0.3">0.8</text>
<text transform="translate(1054.51,960.25) scale(1.0851,1.0000)" font-size="40" fill="#000" stroke="#000" stroke-width="0.3">0.6</text>
<text transform="translate(1054.53,1046.00) scale(1.0728,1.0000)" font-size="40" fill="#000" stroke="#000" stroke-width="0.3">0.4</text>
<text transform="translate(1054.52,1132.25) scale(1.0817,1.0000)" font-size="40" fill="#000" stroke="#000" stroke-width="0.3">0.2</text>
<text transform="translate(1085.18,1214.75) scale(1.1387,1.0000)" font-size="40" fill="#000" stroke="#000" stroke-width="0.3">0</text>
<text transform="translate(1136.97,1252.75) scale(1.1126,1.0000)" font-size="40" fill="#000" stroke="#000" stroke-width="0.3">0</text>
<text transform="translate(1280.77,1252.75) scale(1.0817,1.0000)" font-size="40" fill="#000" stroke="#000" stroke-width="0.3">0.2</text>
<text transform="translate(1440.76,1252.75) scale(1.0870,1.0000)" font-size="40" fill="#000" stroke="#000" stroke-width="0.3">0.4</text>
<text transform="translate(1599.53,1252.75) scale(1.0755,1.0000)" font-size="40" fill="#000" stroke="#000" stroke-width="0.3">0.6</text>
<text transform="translate(1759.49,1252.75) scale(1.0994,1.0000)" font-size="40" fill="#000" stroke="#000" stroke-width="0.3">0.8</text>
<text transform="translate(1364.78,1318.90) scale(1.0580,1.0000)" font-size="40" fill="#000" stroke="#000" stroke-width="0.3">Current</text>
<text transform="translate(1520.05,1325.80) skewX(-5.055) scale(1.15,1.34)" font-size="40" fill="#000" stroke="#000" stroke-width="0.3">/</text>
<text transform="translate(1547.41,1318.90) scale(0.9434,1.0000)" font-size="40" fill="#000" stroke="#000" stroke-width="0.3">A</text>
<text transform="translate(1009.20,1115.82) rotate(-90) scale(1.0675,1.0000)" font-size="40" fill="#000" stroke="#000" stroke-width="0.3">Potential</text>
<text transform="translate(1009.20,938.16) rotate(-90) scale(1.0913,1.0000)" font-size="40" fill="#000" stroke="#000" stroke-width="0.3">drop</text>
<text transform="translate(1016.10,839.75) rotate(-90) skewX(-5.560) scale(1.15,1.34)" font-size="40" fill="#000" stroke="#000" stroke-width="0.3">/</text>
<text transform="translate(1009.20,809.08) rotate(-90) scale(0.8859,1.0000)" font-size="40" fill="#000" stroke="#000" stroke-width="0.3">V</text>
<text transform="translate(1614.83,889.00) scale(1.1407,1.0000)" font-size="40" fill="#000" stroke="#000" stroke-width="0.3">11</text>
<text transform="translate(1671.95,889.00) scale(1.0612,1.0000)" font-size="40" fill="#000" stroke="#000" stroke-width="0.3">cm</text>
</svg>
</body></html>
